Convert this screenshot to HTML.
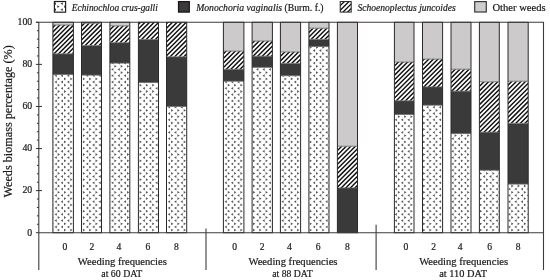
<!DOCTYPE html>
<html><head><meta charset="utf-8"><title>Weeds biomass percentage</title>
<style>
html,body{margin:0;padding:0;background:#fff;}
body{width:550px;height:280px;overflow:hidden;}
svg{display:block;}
text{font-family:"Liberation Serif","DejaVu Serif",serif;fill:#1a1a1a;stroke:#1a1a1a;stroke-width:0.2px;}
.i{font-style:italic;}
</style></head><body>
<svg width="550" height="280" viewBox="0 0 550 280">

<rect width="550" height="280" fill="#fff"/>

<clipPath id="c0d"><rect x="52.9" y="74.48" width="20.5" height="158.22"/></clipPath>
<rect x="52.9" y="74.48" width="20.5" height="158.22" fill="#fff"/>
<path clip-path="url(#c0d)" d="M51.4 77.5l2.3 1.4l-2.3 1.4zM51.4 83.8l2.3 1.4l-2.3 1.4zM51.4 90.1l2.3 1.4l-2.3 1.4zM51.4 96.4l2.3 1.4l-2.3 1.4zM51.4 102.7l2.3 1.4l-2.3 1.4zM51.4 109.0l2.3 1.4l-2.3 1.4zM51.4 115.3l2.3 1.4l-2.3 1.4zM51.4 121.6l2.3 1.4l-2.3 1.4zM51.4 127.9l2.3 1.4l-2.3 1.4zM51.4 134.2l2.3 1.4l-2.3 1.4zM51.4 140.5l2.3 1.4l-2.3 1.4zM51.4 146.8l2.3 1.4l-2.3 1.4zM51.4 153.1l2.3 1.4l-2.3 1.4zM51.4 159.4l2.3 1.4l-2.3 1.4zM51.4 165.7l2.3 1.4l-2.3 1.4zM51.4 172.0l2.3 1.4l-2.3 1.4zM51.4 178.3l2.3 1.4l-2.3 1.4zM51.4 184.6l2.3 1.4l-2.3 1.4zM51.4 190.9l2.3 1.4l-2.3 1.4zM51.4 197.2l2.3 1.4l-2.3 1.4zM51.4 203.5l2.3 1.4l-2.3 1.4zM51.4 209.8l2.3 1.4l-2.3 1.4zM51.4 216.1l2.3 1.4l-2.3 1.4zM51.4 222.4l2.3 1.4l-2.3 1.4zM51.4 228.7l2.3 1.4l-2.3 1.4zM57.7 77.5l2.3 1.4l-2.3 1.4zM57.7 83.8l2.3 1.4l-2.3 1.4zM57.7 90.1l2.3 1.4l-2.3 1.4zM57.7 96.4l2.3 1.4l-2.3 1.4zM57.7 102.7l2.3 1.4l-2.3 1.4zM57.7 109.0l2.3 1.4l-2.3 1.4zM57.7 115.3l2.3 1.4l-2.3 1.4zM57.7 121.6l2.3 1.4l-2.3 1.4zM57.7 127.9l2.3 1.4l-2.3 1.4zM57.7 134.2l2.3 1.4l-2.3 1.4zM57.7 140.5l2.3 1.4l-2.3 1.4zM57.7 146.8l2.3 1.4l-2.3 1.4zM57.7 153.1l2.3 1.4l-2.3 1.4zM57.7 159.4l2.3 1.4l-2.3 1.4zM57.7 165.7l2.3 1.4l-2.3 1.4zM57.7 172.0l2.3 1.4l-2.3 1.4zM57.7 178.3l2.3 1.4l-2.3 1.4zM57.7 184.6l2.3 1.4l-2.3 1.4zM57.7 190.9l2.3 1.4l-2.3 1.4zM57.7 197.2l2.3 1.4l-2.3 1.4zM57.7 203.5l2.3 1.4l-2.3 1.4zM57.7 209.8l2.3 1.4l-2.3 1.4zM57.7 216.1l2.3 1.4l-2.3 1.4zM57.7 222.4l2.3 1.4l-2.3 1.4zM57.7 228.7l2.3 1.4l-2.3 1.4zM64.0 77.5l2.3 1.4l-2.3 1.4zM64.0 83.8l2.3 1.4l-2.3 1.4zM64.0 90.1l2.3 1.4l-2.3 1.4zM64.0 96.4l2.3 1.4l-2.3 1.4zM64.0 102.7l2.3 1.4l-2.3 1.4zM64.0 109.0l2.3 1.4l-2.3 1.4zM64.0 115.3l2.3 1.4l-2.3 1.4zM64.0 121.6l2.3 1.4l-2.3 1.4zM64.0 127.9l2.3 1.4l-2.3 1.4zM64.0 134.2l2.3 1.4l-2.3 1.4zM64.0 140.5l2.3 1.4l-2.3 1.4zM64.0 146.8l2.3 1.4l-2.3 1.4zM64.0 153.1l2.3 1.4l-2.3 1.4zM64.0 159.4l2.3 1.4l-2.3 1.4zM64.0 165.7l2.3 1.4l-2.3 1.4zM64.0 172.0l2.3 1.4l-2.3 1.4zM64.0 178.3l2.3 1.4l-2.3 1.4zM64.0 184.6l2.3 1.4l-2.3 1.4zM64.0 190.9l2.3 1.4l-2.3 1.4zM64.0 197.2l2.3 1.4l-2.3 1.4zM64.0 203.5l2.3 1.4l-2.3 1.4zM64.0 209.8l2.3 1.4l-2.3 1.4zM64.0 216.1l2.3 1.4l-2.3 1.4zM64.0 222.4l2.3 1.4l-2.3 1.4zM64.0 228.7l2.3 1.4l-2.3 1.4zM70.3 77.5l2.3 1.4l-2.3 1.4zM70.3 83.8l2.3 1.4l-2.3 1.4zM70.3 90.1l2.3 1.4l-2.3 1.4zM70.3 96.4l2.3 1.4l-2.3 1.4zM70.3 102.7l2.3 1.4l-2.3 1.4zM70.3 109.0l2.3 1.4l-2.3 1.4zM70.3 115.3l2.3 1.4l-2.3 1.4zM70.3 121.6l2.3 1.4l-2.3 1.4zM70.3 127.9l2.3 1.4l-2.3 1.4zM70.3 134.2l2.3 1.4l-2.3 1.4zM70.3 140.5l2.3 1.4l-2.3 1.4zM70.3 146.8l2.3 1.4l-2.3 1.4zM70.3 153.1l2.3 1.4l-2.3 1.4zM70.3 159.4l2.3 1.4l-2.3 1.4zM70.3 165.7l2.3 1.4l-2.3 1.4zM70.3 172.0l2.3 1.4l-2.3 1.4zM70.3 178.3l2.3 1.4l-2.3 1.4zM70.3 184.6l2.3 1.4l-2.3 1.4zM70.3 190.9l2.3 1.4l-2.3 1.4zM70.3 197.2l2.3 1.4l-2.3 1.4zM70.3 203.5l2.3 1.4l-2.3 1.4zM70.3 209.8l2.3 1.4l-2.3 1.4zM70.3 216.1l2.3 1.4l-2.3 1.4zM70.3 222.4l2.3 1.4l-2.3 1.4zM70.3 228.7l2.3 1.4l-2.3 1.4zM56.8 74.3l-2.3 1.4l2.3 1.4zM56.8 80.6l-2.3 1.4l2.3 1.4zM56.8 86.9l-2.3 1.4l2.3 1.4zM56.8 93.2l-2.3 1.4l2.3 1.4zM56.8 99.5l-2.3 1.4l2.3 1.4zM56.8 105.8l-2.3 1.4l2.3 1.4zM56.8 112.1l-2.3 1.4l2.3 1.4zM56.8 118.4l-2.3 1.4l2.3 1.4zM56.8 124.7l-2.3 1.4l2.3 1.4zM56.8 131.0l-2.3 1.4l2.3 1.4zM56.8 137.3l-2.3 1.4l2.3 1.4zM56.8 143.6l-2.3 1.4l2.3 1.4zM56.8 149.9l-2.3 1.4l2.3 1.4zM56.8 156.2l-2.3 1.4l2.3 1.4zM56.8 162.5l-2.3 1.4l2.3 1.4zM56.8 168.8l-2.3 1.4l2.3 1.4zM56.8 175.1l-2.3 1.4l2.3 1.4zM56.8 181.4l-2.3 1.4l2.3 1.4zM56.8 187.7l-2.3 1.4l2.3 1.4zM56.8 194.0l-2.3 1.4l2.3 1.4zM56.8 200.3l-2.3 1.4l2.3 1.4zM56.8 206.6l-2.3 1.4l2.3 1.4zM56.8 212.9l-2.3 1.4l2.3 1.4zM56.8 219.2l-2.3 1.4l2.3 1.4zM56.8 225.5l-2.3 1.4l2.3 1.4zM56.8 231.8l-2.3 1.4l2.3 1.4zM63.0 74.3l-2.3 1.4l2.3 1.4zM63.0 80.6l-2.3 1.4l2.3 1.4zM63.0 86.9l-2.3 1.4l2.3 1.4zM63.0 93.2l-2.3 1.4l2.3 1.4zM63.0 99.5l-2.3 1.4l2.3 1.4zM63.0 105.8l-2.3 1.4l2.3 1.4zM63.0 112.1l-2.3 1.4l2.3 1.4zM63.0 118.4l-2.3 1.4l2.3 1.4zM63.0 124.7l-2.3 1.4l2.3 1.4zM63.0 131.0l-2.3 1.4l2.3 1.4zM63.0 137.3l-2.3 1.4l2.3 1.4zM63.0 143.6l-2.3 1.4l2.3 1.4zM63.0 149.9l-2.3 1.4l2.3 1.4zM63.0 156.2l-2.3 1.4l2.3 1.4zM63.0 162.5l-2.3 1.4l2.3 1.4zM63.0 168.8l-2.3 1.4l2.3 1.4zM63.0 175.1l-2.3 1.4l2.3 1.4zM63.0 181.4l-2.3 1.4l2.3 1.4zM63.0 187.7l-2.3 1.4l2.3 1.4zM63.0 194.0l-2.3 1.4l2.3 1.4zM63.0 200.3l-2.3 1.4l2.3 1.4zM63.0 206.6l-2.3 1.4l2.3 1.4zM63.0 212.9l-2.3 1.4l2.3 1.4zM63.0 219.2l-2.3 1.4l2.3 1.4zM63.0 225.5l-2.3 1.4l2.3 1.4zM63.0 231.8l-2.3 1.4l2.3 1.4zM69.3 74.3l-2.3 1.4l2.3 1.4zM69.3 80.6l-2.3 1.4l2.3 1.4zM69.3 86.9l-2.3 1.4l2.3 1.4zM69.3 93.2l-2.3 1.4l2.3 1.4zM69.3 99.5l-2.3 1.4l2.3 1.4zM69.3 105.8l-2.3 1.4l2.3 1.4zM69.3 112.1l-2.3 1.4l2.3 1.4zM69.3 118.4l-2.3 1.4l2.3 1.4zM69.3 124.7l-2.3 1.4l2.3 1.4zM69.3 131.0l-2.3 1.4l2.3 1.4zM69.3 137.3l-2.3 1.4l2.3 1.4zM69.3 143.6l-2.3 1.4l2.3 1.4zM69.3 149.9l-2.3 1.4l2.3 1.4zM69.3 156.2l-2.3 1.4l2.3 1.4zM69.3 162.5l-2.3 1.4l2.3 1.4zM69.3 168.8l-2.3 1.4l2.3 1.4zM69.3 175.1l-2.3 1.4l2.3 1.4zM69.3 181.4l-2.3 1.4l2.3 1.4zM69.3 187.7l-2.3 1.4l2.3 1.4zM69.3 194.0l-2.3 1.4l2.3 1.4zM69.3 200.3l-2.3 1.4l2.3 1.4zM69.3 206.6l-2.3 1.4l2.3 1.4zM69.3 212.9l-2.3 1.4l2.3 1.4zM69.3 219.2l-2.3 1.4l2.3 1.4zM69.3 225.5l-2.3 1.4l2.3 1.4zM69.3 231.8l-2.3 1.4l2.3 1.4zM75.6 74.3l-2.3 1.4l2.3 1.4zM75.6 80.6l-2.3 1.4l2.3 1.4zM75.6 86.9l-2.3 1.4l2.3 1.4zM75.6 93.2l-2.3 1.4l2.3 1.4zM75.6 99.5l-2.3 1.4l2.3 1.4zM75.6 105.8l-2.3 1.4l2.3 1.4zM75.6 112.1l-2.3 1.4l2.3 1.4zM75.6 118.4l-2.3 1.4l2.3 1.4zM75.6 124.7l-2.3 1.4l2.3 1.4zM75.6 131.0l-2.3 1.4l2.3 1.4zM75.6 137.3l-2.3 1.4l2.3 1.4zM75.6 143.6l-2.3 1.4l2.3 1.4zM75.6 149.9l-2.3 1.4l2.3 1.4zM75.6 156.2l-2.3 1.4l2.3 1.4zM75.6 162.5l-2.3 1.4l2.3 1.4zM75.6 168.8l-2.3 1.4l2.3 1.4zM75.6 175.1l-2.3 1.4l2.3 1.4zM75.6 181.4l-2.3 1.4l2.3 1.4zM75.6 187.7l-2.3 1.4l2.3 1.4zM75.6 194.0l-2.3 1.4l2.3 1.4zM75.6 200.3l-2.3 1.4l2.3 1.4zM75.6 206.6l-2.3 1.4l2.3 1.4zM75.6 212.9l-2.3 1.4l2.3 1.4zM75.6 219.2l-2.3 1.4l2.3 1.4zM75.6 225.5l-2.3 1.4l2.3 1.4zM75.6 231.8l-2.3 1.4l2.3 1.4z" fill="#5a5a5a"/>
<rect x="52.9" y="53.86" width="20.5" height="20.62" fill="#3b3a3a"/>
<clipPath id="c0h"><rect x="52.9" y="25.04" width="20.5" height="28.82"/></clipPath>
<rect x="52.9" y="25.04" width="20.5" height="28.82" fill="#fff"/>
<path clip-path="url(#c0h)" d="M50.90 20.24L75.40 -4.26M50.90 24.82L75.40 0.32M50.90 29.40L75.40 4.90M50.90 33.98L75.40 9.48M50.90 38.56L75.40 14.06M50.90 43.14L75.40 18.64M50.90 47.72L75.40 23.22M50.90 52.30L75.40 27.80M50.90 56.88L75.40 32.38M50.90 61.46L75.40 36.96M50.90 66.04L75.40 41.54M50.90 70.62L75.40 46.12M50.90 75.20L75.40 50.70M50.90 79.78L75.40 55.28M50.90 84.36L75.40 59.86" stroke="#111" stroke-width="1.45" fill="none"/>
<rect x="52.9" y="22.30" width="20.5" height="2.74" fill="#cccaca"/>
<path d="M52.9 74.48h20.5M52.9 53.86h20.5M52.9 25.04h20.5" stroke="#6a6a6a" stroke-width="0.8" fill="none"/>
<rect x="52.9" y="22.30" width="20.5" height="210.40" fill="none" stroke="#2a2a2a" stroke-width="1"/>
<clipPath id="c1d"><rect x="81.5" y="75.11" width="20.0" height="157.59"/></clipPath>
<rect x="81.5" y="75.11" width="20.0" height="157.59" fill="#fff"/>
<path clip-path="url(#c1d)" d="M82.9 77.5l2.3 1.4l-2.3 1.4zM82.9 83.8l2.3 1.4l-2.3 1.4zM82.9 90.1l2.3 1.4l-2.3 1.4zM82.9 96.4l2.3 1.4l-2.3 1.4zM82.9 102.7l2.3 1.4l-2.3 1.4zM82.9 109.0l2.3 1.4l-2.3 1.4zM82.9 115.3l2.3 1.4l-2.3 1.4zM82.9 121.6l2.3 1.4l-2.3 1.4zM82.9 127.9l2.3 1.4l-2.3 1.4zM82.9 134.2l2.3 1.4l-2.3 1.4zM82.9 140.5l2.3 1.4l-2.3 1.4zM82.9 146.8l2.3 1.4l-2.3 1.4zM82.9 153.1l2.3 1.4l-2.3 1.4zM82.9 159.4l2.3 1.4l-2.3 1.4zM82.9 165.7l2.3 1.4l-2.3 1.4zM82.9 172.0l2.3 1.4l-2.3 1.4zM82.9 178.3l2.3 1.4l-2.3 1.4zM82.9 184.6l2.3 1.4l-2.3 1.4zM82.9 190.9l2.3 1.4l-2.3 1.4zM82.9 197.2l2.3 1.4l-2.3 1.4zM82.9 203.5l2.3 1.4l-2.3 1.4zM82.9 209.8l2.3 1.4l-2.3 1.4zM82.9 216.1l2.3 1.4l-2.3 1.4zM82.9 222.4l2.3 1.4l-2.3 1.4zM82.9 228.7l2.3 1.4l-2.3 1.4zM89.2 77.5l2.3 1.4l-2.3 1.4zM89.2 83.8l2.3 1.4l-2.3 1.4zM89.2 90.1l2.3 1.4l-2.3 1.4zM89.2 96.4l2.3 1.4l-2.3 1.4zM89.2 102.7l2.3 1.4l-2.3 1.4zM89.2 109.0l2.3 1.4l-2.3 1.4zM89.2 115.3l2.3 1.4l-2.3 1.4zM89.2 121.6l2.3 1.4l-2.3 1.4zM89.2 127.9l2.3 1.4l-2.3 1.4zM89.2 134.2l2.3 1.4l-2.3 1.4zM89.2 140.5l2.3 1.4l-2.3 1.4zM89.2 146.8l2.3 1.4l-2.3 1.4zM89.2 153.1l2.3 1.4l-2.3 1.4zM89.2 159.4l2.3 1.4l-2.3 1.4zM89.2 165.7l2.3 1.4l-2.3 1.4zM89.2 172.0l2.3 1.4l-2.3 1.4zM89.2 178.3l2.3 1.4l-2.3 1.4zM89.2 184.6l2.3 1.4l-2.3 1.4zM89.2 190.9l2.3 1.4l-2.3 1.4zM89.2 197.2l2.3 1.4l-2.3 1.4zM89.2 203.5l2.3 1.4l-2.3 1.4zM89.2 209.8l2.3 1.4l-2.3 1.4zM89.2 216.1l2.3 1.4l-2.3 1.4zM89.2 222.4l2.3 1.4l-2.3 1.4zM89.2 228.7l2.3 1.4l-2.3 1.4zM95.5 77.5l2.3 1.4l-2.3 1.4zM95.5 83.8l2.3 1.4l-2.3 1.4zM95.5 90.1l2.3 1.4l-2.3 1.4zM95.5 96.4l2.3 1.4l-2.3 1.4zM95.5 102.7l2.3 1.4l-2.3 1.4zM95.5 109.0l2.3 1.4l-2.3 1.4zM95.5 115.3l2.3 1.4l-2.3 1.4zM95.5 121.6l2.3 1.4l-2.3 1.4zM95.5 127.9l2.3 1.4l-2.3 1.4zM95.5 134.2l2.3 1.4l-2.3 1.4zM95.5 140.5l2.3 1.4l-2.3 1.4zM95.5 146.8l2.3 1.4l-2.3 1.4zM95.5 153.1l2.3 1.4l-2.3 1.4zM95.5 159.4l2.3 1.4l-2.3 1.4zM95.5 165.7l2.3 1.4l-2.3 1.4zM95.5 172.0l2.3 1.4l-2.3 1.4zM95.5 178.3l2.3 1.4l-2.3 1.4zM95.5 184.6l2.3 1.4l-2.3 1.4zM95.5 190.9l2.3 1.4l-2.3 1.4zM95.5 197.2l2.3 1.4l-2.3 1.4zM95.5 203.5l2.3 1.4l-2.3 1.4zM95.5 209.8l2.3 1.4l-2.3 1.4zM95.5 216.1l2.3 1.4l-2.3 1.4zM95.5 222.4l2.3 1.4l-2.3 1.4zM95.5 228.7l2.3 1.4l-2.3 1.4zM101.8 77.5l2.3 1.4l-2.3 1.4zM101.8 83.8l2.3 1.4l-2.3 1.4zM101.8 90.1l2.3 1.4l-2.3 1.4zM101.8 96.4l2.3 1.4l-2.3 1.4zM101.8 102.7l2.3 1.4l-2.3 1.4zM101.8 109.0l2.3 1.4l-2.3 1.4zM101.8 115.3l2.3 1.4l-2.3 1.4zM101.8 121.6l2.3 1.4l-2.3 1.4zM101.8 127.9l2.3 1.4l-2.3 1.4zM101.8 134.2l2.3 1.4l-2.3 1.4zM101.8 140.5l2.3 1.4l-2.3 1.4zM101.8 146.8l2.3 1.4l-2.3 1.4zM101.8 153.1l2.3 1.4l-2.3 1.4zM101.8 159.4l2.3 1.4l-2.3 1.4zM101.8 165.7l2.3 1.4l-2.3 1.4zM101.8 172.0l2.3 1.4l-2.3 1.4zM101.8 178.3l2.3 1.4l-2.3 1.4zM101.8 184.6l2.3 1.4l-2.3 1.4zM101.8 190.9l2.3 1.4l-2.3 1.4zM101.8 197.2l2.3 1.4l-2.3 1.4zM101.8 203.5l2.3 1.4l-2.3 1.4zM101.8 209.8l2.3 1.4l-2.3 1.4zM101.8 216.1l2.3 1.4l-2.3 1.4zM101.8 222.4l2.3 1.4l-2.3 1.4zM101.8 228.7l2.3 1.4l-2.3 1.4zM81.9 74.3l-2.3 1.4l2.3 1.4zM81.9 80.6l-2.3 1.4l2.3 1.4zM81.9 86.9l-2.3 1.4l2.3 1.4zM81.9 93.2l-2.3 1.4l2.3 1.4zM81.9 99.5l-2.3 1.4l2.3 1.4zM81.9 105.8l-2.3 1.4l2.3 1.4zM81.9 112.1l-2.3 1.4l2.3 1.4zM81.9 118.4l-2.3 1.4l2.3 1.4zM81.9 124.7l-2.3 1.4l2.3 1.4zM81.9 131.0l-2.3 1.4l2.3 1.4zM81.9 137.3l-2.3 1.4l2.3 1.4zM81.9 143.6l-2.3 1.4l2.3 1.4zM81.9 149.9l-2.3 1.4l2.3 1.4zM81.9 156.2l-2.3 1.4l2.3 1.4zM81.9 162.5l-2.3 1.4l2.3 1.4zM81.9 168.8l-2.3 1.4l2.3 1.4zM81.9 175.1l-2.3 1.4l2.3 1.4zM81.9 181.4l-2.3 1.4l2.3 1.4zM81.9 187.7l-2.3 1.4l2.3 1.4zM81.9 194.0l-2.3 1.4l2.3 1.4zM81.9 200.3l-2.3 1.4l2.3 1.4zM81.9 206.6l-2.3 1.4l2.3 1.4zM81.9 212.9l-2.3 1.4l2.3 1.4zM81.9 219.2l-2.3 1.4l2.3 1.4zM81.9 225.5l-2.3 1.4l2.3 1.4zM81.9 231.8l-2.3 1.4l2.3 1.4zM88.2 74.3l-2.3 1.4l2.3 1.4zM88.2 80.6l-2.3 1.4l2.3 1.4zM88.2 86.9l-2.3 1.4l2.3 1.4zM88.2 93.2l-2.3 1.4l2.3 1.4zM88.2 99.5l-2.3 1.4l2.3 1.4zM88.2 105.8l-2.3 1.4l2.3 1.4zM88.2 112.1l-2.3 1.4l2.3 1.4zM88.2 118.4l-2.3 1.4l2.3 1.4zM88.2 124.7l-2.3 1.4l2.3 1.4zM88.2 131.0l-2.3 1.4l2.3 1.4zM88.2 137.3l-2.3 1.4l2.3 1.4zM88.2 143.6l-2.3 1.4l2.3 1.4zM88.2 149.9l-2.3 1.4l2.3 1.4zM88.2 156.2l-2.3 1.4l2.3 1.4zM88.2 162.5l-2.3 1.4l2.3 1.4zM88.2 168.8l-2.3 1.4l2.3 1.4zM88.2 175.1l-2.3 1.4l2.3 1.4zM88.2 181.4l-2.3 1.4l2.3 1.4zM88.2 187.7l-2.3 1.4l2.3 1.4zM88.2 194.0l-2.3 1.4l2.3 1.4zM88.2 200.3l-2.3 1.4l2.3 1.4zM88.2 206.6l-2.3 1.4l2.3 1.4zM88.2 212.9l-2.3 1.4l2.3 1.4zM88.2 219.2l-2.3 1.4l2.3 1.4zM88.2 225.5l-2.3 1.4l2.3 1.4zM88.2 231.8l-2.3 1.4l2.3 1.4zM94.5 74.3l-2.3 1.4l2.3 1.4zM94.5 80.6l-2.3 1.4l2.3 1.4zM94.5 86.9l-2.3 1.4l2.3 1.4zM94.5 93.2l-2.3 1.4l2.3 1.4zM94.5 99.5l-2.3 1.4l2.3 1.4zM94.5 105.8l-2.3 1.4l2.3 1.4zM94.5 112.1l-2.3 1.4l2.3 1.4zM94.5 118.4l-2.3 1.4l2.3 1.4zM94.5 124.7l-2.3 1.4l2.3 1.4zM94.5 131.0l-2.3 1.4l2.3 1.4zM94.5 137.3l-2.3 1.4l2.3 1.4zM94.5 143.6l-2.3 1.4l2.3 1.4zM94.5 149.9l-2.3 1.4l2.3 1.4zM94.5 156.2l-2.3 1.4l2.3 1.4zM94.5 162.5l-2.3 1.4l2.3 1.4zM94.5 168.8l-2.3 1.4l2.3 1.4zM94.5 175.1l-2.3 1.4l2.3 1.4zM94.5 181.4l-2.3 1.4l2.3 1.4zM94.5 187.7l-2.3 1.4l2.3 1.4zM94.5 194.0l-2.3 1.4l2.3 1.4zM94.5 200.3l-2.3 1.4l2.3 1.4zM94.5 206.6l-2.3 1.4l2.3 1.4zM94.5 212.9l-2.3 1.4l2.3 1.4zM94.5 219.2l-2.3 1.4l2.3 1.4zM94.5 225.5l-2.3 1.4l2.3 1.4zM94.5 231.8l-2.3 1.4l2.3 1.4zM100.8 74.3l-2.3 1.4l2.3 1.4zM100.8 80.6l-2.3 1.4l2.3 1.4zM100.8 86.9l-2.3 1.4l2.3 1.4zM100.8 93.2l-2.3 1.4l2.3 1.4zM100.8 99.5l-2.3 1.4l2.3 1.4zM100.8 105.8l-2.3 1.4l2.3 1.4zM100.8 112.1l-2.3 1.4l2.3 1.4zM100.8 118.4l-2.3 1.4l2.3 1.4zM100.8 124.7l-2.3 1.4l2.3 1.4zM100.8 131.0l-2.3 1.4l2.3 1.4zM100.8 137.3l-2.3 1.4l2.3 1.4zM100.8 143.6l-2.3 1.4l2.3 1.4zM100.8 149.9l-2.3 1.4l2.3 1.4zM100.8 156.2l-2.3 1.4l2.3 1.4zM100.8 162.5l-2.3 1.4l2.3 1.4zM100.8 168.8l-2.3 1.4l2.3 1.4zM100.8 175.1l-2.3 1.4l2.3 1.4zM100.8 181.4l-2.3 1.4l2.3 1.4zM100.8 187.7l-2.3 1.4l2.3 1.4zM100.8 194.0l-2.3 1.4l2.3 1.4zM100.8 200.3l-2.3 1.4l2.3 1.4zM100.8 206.6l-2.3 1.4l2.3 1.4zM100.8 212.9l-2.3 1.4l2.3 1.4zM100.8 219.2l-2.3 1.4l2.3 1.4zM100.8 225.5l-2.3 1.4l2.3 1.4zM100.8 231.8l-2.3 1.4l2.3 1.4z" fill="#5a5a5a"/>
<rect x="81.5" y="45.55" width="20.0" height="29.56" fill="#3b3a3a"/>
<clipPath id="c1h"><rect x="81.5" y="23.14" width="20.0" height="22.41"/></clipPath>
<rect x="81.5" y="23.14" width="20.0" height="22.41" fill="#fff"/>
<path clip-path="url(#c1h)" d="M79.50 19.12L103.50 -4.88M79.50 23.70L103.50 -0.30M79.50 28.28L103.50 4.28M79.50 32.86L103.50 8.86M79.50 37.44L103.50 13.44M79.50 42.02L103.50 18.02M79.50 46.60L103.50 22.60M79.50 51.18L103.50 27.18M79.50 55.76L103.50 31.76M79.50 60.34L103.50 36.34M79.50 64.92L103.50 40.92M79.50 69.50L103.50 45.50M79.50 74.08L103.50 50.08" stroke="#111" stroke-width="1.45" fill="none"/>
<rect x="81.5" y="22.30" width="20.0" height="0.84" fill="#cccaca"/>
<path d="M81.5 75.11h20.0M81.5 45.55h20.0M81.5 23.14h20.0" stroke="#6a6a6a" stroke-width="0.8" fill="none"/>
<rect x="81.5" y="22.30" width="20.0" height="210.40" fill="none" stroke="#2a2a2a" stroke-width="1"/>
<clipPath id="c2d"><rect x="109.9" y="63.12" width="19.9" height="169.58"/></clipPath>
<rect x="109.9" y="63.12" width="19.9" height="169.58" fill="#fff"/>
<path clip-path="url(#c2d)" d="M108.1 64.9l2.3 1.4l-2.3 1.4zM108.1 71.2l2.3 1.4l-2.3 1.4zM108.1 77.5l2.3 1.4l-2.3 1.4zM108.1 83.8l2.3 1.4l-2.3 1.4zM108.1 90.1l2.3 1.4l-2.3 1.4zM108.1 96.4l2.3 1.4l-2.3 1.4zM108.1 102.7l2.3 1.4l-2.3 1.4zM108.1 109.0l2.3 1.4l-2.3 1.4zM108.1 115.3l2.3 1.4l-2.3 1.4zM108.1 121.6l2.3 1.4l-2.3 1.4zM108.1 127.9l2.3 1.4l-2.3 1.4zM108.1 134.2l2.3 1.4l-2.3 1.4zM108.1 140.5l2.3 1.4l-2.3 1.4zM108.1 146.8l2.3 1.4l-2.3 1.4zM108.1 153.1l2.3 1.4l-2.3 1.4zM108.1 159.4l2.3 1.4l-2.3 1.4zM108.1 165.7l2.3 1.4l-2.3 1.4zM108.1 172.0l2.3 1.4l-2.3 1.4zM108.1 178.3l2.3 1.4l-2.3 1.4zM108.1 184.6l2.3 1.4l-2.3 1.4zM108.1 190.9l2.3 1.4l-2.3 1.4zM108.1 197.2l2.3 1.4l-2.3 1.4zM108.1 203.5l2.3 1.4l-2.3 1.4zM108.1 209.8l2.3 1.4l-2.3 1.4zM108.1 216.1l2.3 1.4l-2.3 1.4zM108.1 222.4l2.3 1.4l-2.3 1.4zM108.1 228.7l2.3 1.4l-2.3 1.4zM114.4 64.9l2.3 1.4l-2.3 1.4zM114.4 71.2l2.3 1.4l-2.3 1.4zM114.4 77.5l2.3 1.4l-2.3 1.4zM114.4 83.8l2.3 1.4l-2.3 1.4zM114.4 90.1l2.3 1.4l-2.3 1.4zM114.4 96.4l2.3 1.4l-2.3 1.4zM114.4 102.7l2.3 1.4l-2.3 1.4zM114.4 109.0l2.3 1.4l-2.3 1.4zM114.4 115.3l2.3 1.4l-2.3 1.4zM114.4 121.6l2.3 1.4l-2.3 1.4zM114.4 127.9l2.3 1.4l-2.3 1.4zM114.4 134.2l2.3 1.4l-2.3 1.4zM114.4 140.5l2.3 1.4l-2.3 1.4zM114.4 146.8l2.3 1.4l-2.3 1.4zM114.4 153.1l2.3 1.4l-2.3 1.4zM114.4 159.4l2.3 1.4l-2.3 1.4zM114.4 165.7l2.3 1.4l-2.3 1.4zM114.4 172.0l2.3 1.4l-2.3 1.4zM114.4 178.3l2.3 1.4l-2.3 1.4zM114.4 184.6l2.3 1.4l-2.3 1.4zM114.4 190.9l2.3 1.4l-2.3 1.4zM114.4 197.2l2.3 1.4l-2.3 1.4zM114.4 203.5l2.3 1.4l-2.3 1.4zM114.4 209.8l2.3 1.4l-2.3 1.4zM114.4 216.1l2.3 1.4l-2.3 1.4zM114.4 222.4l2.3 1.4l-2.3 1.4zM114.4 228.7l2.3 1.4l-2.3 1.4zM120.7 64.9l2.3 1.4l-2.3 1.4zM120.7 71.2l2.3 1.4l-2.3 1.4zM120.7 77.5l2.3 1.4l-2.3 1.4zM120.7 83.8l2.3 1.4l-2.3 1.4zM120.7 90.1l2.3 1.4l-2.3 1.4zM120.7 96.4l2.3 1.4l-2.3 1.4zM120.7 102.7l2.3 1.4l-2.3 1.4zM120.7 109.0l2.3 1.4l-2.3 1.4zM120.7 115.3l2.3 1.4l-2.3 1.4zM120.7 121.6l2.3 1.4l-2.3 1.4zM120.7 127.9l2.3 1.4l-2.3 1.4zM120.7 134.2l2.3 1.4l-2.3 1.4zM120.7 140.5l2.3 1.4l-2.3 1.4zM120.7 146.8l2.3 1.4l-2.3 1.4zM120.7 153.1l2.3 1.4l-2.3 1.4zM120.7 159.4l2.3 1.4l-2.3 1.4zM120.7 165.7l2.3 1.4l-2.3 1.4zM120.7 172.0l2.3 1.4l-2.3 1.4zM120.7 178.3l2.3 1.4l-2.3 1.4zM120.7 184.6l2.3 1.4l-2.3 1.4zM120.7 190.9l2.3 1.4l-2.3 1.4zM120.7 197.2l2.3 1.4l-2.3 1.4zM120.7 203.5l2.3 1.4l-2.3 1.4zM120.7 209.8l2.3 1.4l-2.3 1.4zM120.7 216.1l2.3 1.4l-2.3 1.4zM120.7 222.4l2.3 1.4l-2.3 1.4zM120.7 228.7l2.3 1.4l-2.3 1.4zM127.0 64.9l2.3 1.4l-2.3 1.4zM127.0 71.2l2.3 1.4l-2.3 1.4zM127.0 77.5l2.3 1.4l-2.3 1.4zM127.0 83.8l2.3 1.4l-2.3 1.4zM127.0 90.1l2.3 1.4l-2.3 1.4zM127.0 96.4l2.3 1.4l-2.3 1.4zM127.0 102.7l2.3 1.4l-2.3 1.4zM127.0 109.0l2.3 1.4l-2.3 1.4zM127.0 115.3l2.3 1.4l-2.3 1.4zM127.0 121.6l2.3 1.4l-2.3 1.4zM127.0 127.9l2.3 1.4l-2.3 1.4zM127.0 134.2l2.3 1.4l-2.3 1.4zM127.0 140.5l2.3 1.4l-2.3 1.4zM127.0 146.8l2.3 1.4l-2.3 1.4zM127.0 153.1l2.3 1.4l-2.3 1.4zM127.0 159.4l2.3 1.4l-2.3 1.4zM127.0 165.7l2.3 1.4l-2.3 1.4zM127.0 172.0l2.3 1.4l-2.3 1.4zM127.0 178.3l2.3 1.4l-2.3 1.4zM127.0 184.6l2.3 1.4l-2.3 1.4zM127.0 190.9l2.3 1.4l-2.3 1.4zM127.0 197.2l2.3 1.4l-2.3 1.4zM127.0 203.5l2.3 1.4l-2.3 1.4zM127.0 209.8l2.3 1.4l-2.3 1.4zM127.0 216.1l2.3 1.4l-2.3 1.4zM127.0 222.4l2.3 1.4l-2.3 1.4zM127.0 228.7l2.3 1.4l-2.3 1.4zM113.4 61.7l-2.3 1.4l2.3 1.4zM113.4 68.0l-2.3 1.4l2.3 1.4zM113.4 74.3l-2.3 1.4l2.3 1.4zM113.4 80.6l-2.3 1.4l2.3 1.4zM113.4 86.9l-2.3 1.4l2.3 1.4zM113.4 93.2l-2.3 1.4l2.3 1.4zM113.4 99.5l-2.3 1.4l2.3 1.4zM113.4 105.8l-2.3 1.4l2.3 1.4zM113.4 112.1l-2.3 1.4l2.3 1.4zM113.4 118.4l-2.3 1.4l2.3 1.4zM113.4 124.7l-2.3 1.4l2.3 1.4zM113.4 131.0l-2.3 1.4l2.3 1.4zM113.4 137.3l-2.3 1.4l2.3 1.4zM113.4 143.6l-2.3 1.4l2.3 1.4zM113.4 149.9l-2.3 1.4l2.3 1.4zM113.4 156.2l-2.3 1.4l2.3 1.4zM113.4 162.5l-2.3 1.4l2.3 1.4zM113.4 168.8l-2.3 1.4l2.3 1.4zM113.4 175.1l-2.3 1.4l2.3 1.4zM113.4 181.4l-2.3 1.4l2.3 1.4zM113.4 187.7l-2.3 1.4l2.3 1.4zM113.4 194.0l-2.3 1.4l2.3 1.4zM113.4 200.3l-2.3 1.4l2.3 1.4zM113.4 206.6l-2.3 1.4l2.3 1.4zM113.4 212.9l-2.3 1.4l2.3 1.4zM113.4 219.2l-2.3 1.4l2.3 1.4zM113.4 225.5l-2.3 1.4l2.3 1.4zM113.4 231.8l-2.3 1.4l2.3 1.4zM119.8 61.7l-2.3 1.4l2.3 1.4zM119.8 68.0l-2.3 1.4l2.3 1.4zM119.8 74.3l-2.3 1.4l2.3 1.4zM119.8 80.6l-2.3 1.4l2.3 1.4zM119.8 86.9l-2.3 1.4l2.3 1.4zM119.8 93.2l-2.3 1.4l2.3 1.4zM119.8 99.5l-2.3 1.4l2.3 1.4zM119.8 105.8l-2.3 1.4l2.3 1.4zM119.8 112.1l-2.3 1.4l2.3 1.4zM119.8 118.4l-2.3 1.4l2.3 1.4zM119.8 124.7l-2.3 1.4l2.3 1.4zM119.8 131.0l-2.3 1.4l2.3 1.4zM119.8 137.3l-2.3 1.4l2.3 1.4zM119.8 143.6l-2.3 1.4l2.3 1.4zM119.8 149.9l-2.3 1.4l2.3 1.4zM119.8 156.2l-2.3 1.4l2.3 1.4zM119.8 162.5l-2.3 1.4l2.3 1.4zM119.8 168.8l-2.3 1.4l2.3 1.4zM119.8 175.1l-2.3 1.4l2.3 1.4zM119.8 181.4l-2.3 1.4l2.3 1.4zM119.8 187.7l-2.3 1.4l2.3 1.4zM119.8 194.0l-2.3 1.4l2.3 1.4zM119.8 200.3l-2.3 1.4l2.3 1.4zM119.8 206.6l-2.3 1.4l2.3 1.4zM119.8 212.9l-2.3 1.4l2.3 1.4zM119.8 219.2l-2.3 1.4l2.3 1.4zM119.8 225.5l-2.3 1.4l2.3 1.4zM119.8 231.8l-2.3 1.4l2.3 1.4zM126.0 61.7l-2.3 1.4l2.3 1.4zM126.0 68.0l-2.3 1.4l2.3 1.4zM126.0 74.3l-2.3 1.4l2.3 1.4zM126.0 80.6l-2.3 1.4l2.3 1.4zM126.0 86.9l-2.3 1.4l2.3 1.4zM126.0 93.2l-2.3 1.4l2.3 1.4zM126.0 99.5l-2.3 1.4l2.3 1.4zM126.0 105.8l-2.3 1.4l2.3 1.4zM126.0 112.1l-2.3 1.4l2.3 1.4zM126.0 118.4l-2.3 1.4l2.3 1.4zM126.0 124.7l-2.3 1.4l2.3 1.4zM126.0 131.0l-2.3 1.4l2.3 1.4zM126.0 137.3l-2.3 1.4l2.3 1.4zM126.0 143.6l-2.3 1.4l2.3 1.4zM126.0 149.9l-2.3 1.4l2.3 1.4zM126.0 156.2l-2.3 1.4l2.3 1.4zM126.0 162.5l-2.3 1.4l2.3 1.4zM126.0 168.8l-2.3 1.4l2.3 1.4zM126.0 175.1l-2.3 1.4l2.3 1.4zM126.0 181.4l-2.3 1.4l2.3 1.4zM126.0 187.7l-2.3 1.4l2.3 1.4zM126.0 194.0l-2.3 1.4l2.3 1.4zM126.0 200.3l-2.3 1.4l2.3 1.4zM126.0 206.6l-2.3 1.4l2.3 1.4zM126.0 212.9l-2.3 1.4l2.3 1.4zM126.0 219.2l-2.3 1.4l2.3 1.4zM126.0 225.5l-2.3 1.4l2.3 1.4zM126.0 231.8l-2.3 1.4l2.3 1.4zM132.3 61.7l-2.3 1.4l2.3 1.4zM132.3 68.0l-2.3 1.4l2.3 1.4zM132.3 74.3l-2.3 1.4l2.3 1.4zM132.3 80.6l-2.3 1.4l2.3 1.4zM132.3 86.9l-2.3 1.4l2.3 1.4zM132.3 93.2l-2.3 1.4l2.3 1.4zM132.3 99.5l-2.3 1.4l2.3 1.4zM132.3 105.8l-2.3 1.4l2.3 1.4zM132.3 112.1l-2.3 1.4l2.3 1.4zM132.3 118.4l-2.3 1.4l2.3 1.4zM132.3 124.7l-2.3 1.4l2.3 1.4zM132.3 131.0l-2.3 1.4l2.3 1.4zM132.3 137.3l-2.3 1.4l2.3 1.4zM132.3 143.6l-2.3 1.4l2.3 1.4zM132.3 149.9l-2.3 1.4l2.3 1.4zM132.3 156.2l-2.3 1.4l2.3 1.4zM132.3 162.5l-2.3 1.4l2.3 1.4zM132.3 168.8l-2.3 1.4l2.3 1.4zM132.3 175.1l-2.3 1.4l2.3 1.4zM132.3 181.4l-2.3 1.4l2.3 1.4zM132.3 187.7l-2.3 1.4l2.3 1.4zM132.3 194.0l-2.3 1.4l2.3 1.4zM132.3 200.3l-2.3 1.4l2.3 1.4zM132.3 206.6l-2.3 1.4l2.3 1.4zM132.3 212.9l-2.3 1.4l2.3 1.4zM132.3 219.2l-2.3 1.4l2.3 1.4zM132.3 225.5l-2.3 1.4l2.3 1.4zM132.3 231.8l-2.3 1.4l2.3 1.4z" fill="#5a5a5a"/>
<rect x="109.9" y="42.71" width="19.9" height="20.41" fill="#3b3a3a"/>
<clipPath id="c2h"><rect x="109.9" y="25.88" width="19.9" height="16.83"/></clipPath>
<rect x="109.9" y="25.88" width="19.9" height="16.83" fill="#fff"/>
<path clip-path="url(#c2h)" d="M107.90 22.78L131.80 -1.12M107.90 27.36L131.80 3.46M107.90 31.94L131.80 8.04M107.90 36.52L131.80 12.62M107.90 41.10L131.80 17.20M107.90 45.68L131.80 21.78M107.90 50.26L131.80 26.36M107.90 54.84L131.80 30.94M107.90 59.42L131.80 35.52M107.90 64.00L131.80 40.10M107.90 68.58L131.80 44.68M107.90 73.16L131.80 49.26" stroke="#111" stroke-width="1.45" fill="none"/>
<rect x="109.9" y="22.30" width="19.9" height="3.58" fill="#cccaca"/>
<path d="M109.9 63.12h19.9M109.9 42.71h19.9M109.9 25.88h19.9" stroke="#6a6a6a" stroke-width="0.8" fill="none"/>
<rect x="109.9" y="22.30" width="19.9" height="210.40" fill="none" stroke="#2a2a2a" stroke-width="1"/>
<clipPath id="c3d"><rect x="138.4" y="82.47" width="20.1" height="150.23"/></clipPath>
<rect x="138.4" y="82.47" width="20.1" height="150.23" fill="#fff"/>
<path clip-path="url(#c3d)" d="M139.6 83.8l2.3 1.4l-2.3 1.4zM139.6 90.1l2.3 1.4l-2.3 1.4zM139.6 96.4l2.3 1.4l-2.3 1.4zM139.6 102.7l2.3 1.4l-2.3 1.4zM139.6 109.0l2.3 1.4l-2.3 1.4zM139.6 115.3l2.3 1.4l-2.3 1.4zM139.6 121.6l2.3 1.4l-2.3 1.4zM139.6 127.9l2.3 1.4l-2.3 1.4zM139.6 134.2l2.3 1.4l-2.3 1.4zM139.6 140.5l2.3 1.4l-2.3 1.4zM139.6 146.8l2.3 1.4l-2.3 1.4zM139.6 153.1l2.3 1.4l-2.3 1.4zM139.6 159.4l2.3 1.4l-2.3 1.4zM139.6 165.7l2.3 1.4l-2.3 1.4zM139.6 172.0l2.3 1.4l-2.3 1.4zM139.6 178.3l2.3 1.4l-2.3 1.4zM139.6 184.6l2.3 1.4l-2.3 1.4zM139.6 190.9l2.3 1.4l-2.3 1.4zM139.6 197.2l2.3 1.4l-2.3 1.4zM139.6 203.5l2.3 1.4l-2.3 1.4zM139.6 209.8l2.3 1.4l-2.3 1.4zM139.6 216.1l2.3 1.4l-2.3 1.4zM139.6 222.4l2.3 1.4l-2.3 1.4zM139.6 228.7l2.3 1.4l-2.3 1.4zM145.9 83.8l2.3 1.4l-2.3 1.4zM145.9 90.1l2.3 1.4l-2.3 1.4zM145.9 96.4l2.3 1.4l-2.3 1.4zM145.9 102.7l2.3 1.4l-2.3 1.4zM145.9 109.0l2.3 1.4l-2.3 1.4zM145.9 115.3l2.3 1.4l-2.3 1.4zM145.9 121.6l2.3 1.4l-2.3 1.4zM145.9 127.9l2.3 1.4l-2.3 1.4zM145.9 134.2l2.3 1.4l-2.3 1.4zM145.9 140.5l2.3 1.4l-2.3 1.4zM145.9 146.8l2.3 1.4l-2.3 1.4zM145.9 153.1l2.3 1.4l-2.3 1.4zM145.9 159.4l2.3 1.4l-2.3 1.4zM145.9 165.7l2.3 1.4l-2.3 1.4zM145.9 172.0l2.3 1.4l-2.3 1.4zM145.9 178.3l2.3 1.4l-2.3 1.4zM145.9 184.6l2.3 1.4l-2.3 1.4zM145.9 190.9l2.3 1.4l-2.3 1.4zM145.9 197.2l2.3 1.4l-2.3 1.4zM145.9 203.5l2.3 1.4l-2.3 1.4zM145.9 209.8l2.3 1.4l-2.3 1.4zM145.9 216.1l2.3 1.4l-2.3 1.4zM145.9 222.4l2.3 1.4l-2.3 1.4zM145.9 228.7l2.3 1.4l-2.3 1.4zM152.2 83.8l2.3 1.4l-2.3 1.4zM152.2 90.1l2.3 1.4l-2.3 1.4zM152.2 96.4l2.3 1.4l-2.3 1.4zM152.2 102.7l2.3 1.4l-2.3 1.4zM152.2 109.0l2.3 1.4l-2.3 1.4zM152.2 115.3l2.3 1.4l-2.3 1.4zM152.2 121.6l2.3 1.4l-2.3 1.4zM152.2 127.9l2.3 1.4l-2.3 1.4zM152.2 134.2l2.3 1.4l-2.3 1.4zM152.2 140.5l2.3 1.4l-2.3 1.4zM152.2 146.8l2.3 1.4l-2.3 1.4zM152.2 153.1l2.3 1.4l-2.3 1.4zM152.2 159.4l2.3 1.4l-2.3 1.4zM152.2 165.7l2.3 1.4l-2.3 1.4zM152.2 172.0l2.3 1.4l-2.3 1.4zM152.2 178.3l2.3 1.4l-2.3 1.4zM152.2 184.6l2.3 1.4l-2.3 1.4zM152.2 190.9l2.3 1.4l-2.3 1.4zM152.2 197.2l2.3 1.4l-2.3 1.4zM152.2 203.5l2.3 1.4l-2.3 1.4zM152.2 209.8l2.3 1.4l-2.3 1.4zM152.2 216.1l2.3 1.4l-2.3 1.4zM152.2 222.4l2.3 1.4l-2.3 1.4zM152.2 228.7l2.3 1.4l-2.3 1.4zM158.5 83.8l2.3 1.4l-2.3 1.4zM158.5 90.1l2.3 1.4l-2.3 1.4zM158.5 96.4l2.3 1.4l-2.3 1.4zM158.5 102.7l2.3 1.4l-2.3 1.4zM158.5 109.0l2.3 1.4l-2.3 1.4zM158.5 115.3l2.3 1.4l-2.3 1.4zM158.5 121.6l2.3 1.4l-2.3 1.4zM158.5 127.9l2.3 1.4l-2.3 1.4zM158.5 134.2l2.3 1.4l-2.3 1.4zM158.5 140.5l2.3 1.4l-2.3 1.4zM158.5 146.8l2.3 1.4l-2.3 1.4zM158.5 153.1l2.3 1.4l-2.3 1.4zM158.5 159.4l2.3 1.4l-2.3 1.4zM158.5 165.7l2.3 1.4l-2.3 1.4zM158.5 172.0l2.3 1.4l-2.3 1.4zM158.5 178.3l2.3 1.4l-2.3 1.4zM158.5 184.6l2.3 1.4l-2.3 1.4zM158.5 190.9l2.3 1.4l-2.3 1.4zM158.5 197.2l2.3 1.4l-2.3 1.4zM158.5 203.5l2.3 1.4l-2.3 1.4zM158.5 209.8l2.3 1.4l-2.3 1.4zM158.5 216.1l2.3 1.4l-2.3 1.4zM158.5 222.4l2.3 1.4l-2.3 1.4zM158.5 228.7l2.3 1.4l-2.3 1.4zM138.6 80.6l-2.3 1.4l2.3 1.4zM138.6 86.9l-2.3 1.4l2.3 1.4zM138.6 93.2l-2.3 1.4l2.3 1.4zM138.6 99.5l-2.3 1.4l2.3 1.4zM138.6 105.8l-2.3 1.4l2.3 1.4zM138.6 112.1l-2.3 1.4l2.3 1.4zM138.6 118.4l-2.3 1.4l2.3 1.4zM138.6 124.7l-2.3 1.4l2.3 1.4zM138.6 131.0l-2.3 1.4l2.3 1.4zM138.6 137.3l-2.3 1.4l2.3 1.4zM138.6 143.6l-2.3 1.4l2.3 1.4zM138.6 149.9l-2.3 1.4l2.3 1.4zM138.6 156.2l-2.3 1.4l2.3 1.4zM138.6 162.5l-2.3 1.4l2.3 1.4zM138.6 168.8l-2.3 1.4l2.3 1.4zM138.6 175.1l-2.3 1.4l2.3 1.4zM138.6 181.4l-2.3 1.4l2.3 1.4zM138.6 187.7l-2.3 1.4l2.3 1.4zM138.6 194.0l-2.3 1.4l2.3 1.4zM138.6 200.3l-2.3 1.4l2.3 1.4zM138.6 206.6l-2.3 1.4l2.3 1.4zM138.6 212.9l-2.3 1.4l2.3 1.4zM138.6 219.2l-2.3 1.4l2.3 1.4zM138.6 225.5l-2.3 1.4l2.3 1.4zM138.6 231.8l-2.3 1.4l2.3 1.4zM144.9 80.6l-2.3 1.4l2.3 1.4zM144.9 86.9l-2.3 1.4l2.3 1.4zM144.9 93.2l-2.3 1.4l2.3 1.4zM144.9 99.5l-2.3 1.4l2.3 1.4zM144.9 105.8l-2.3 1.4l2.3 1.4zM144.9 112.1l-2.3 1.4l2.3 1.4zM144.9 118.4l-2.3 1.4l2.3 1.4zM144.9 124.7l-2.3 1.4l2.3 1.4zM144.9 131.0l-2.3 1.4l2.3 1.4zM144.9 137.3l-2.3 1.4l2.3 1.4zM144.9 143.6l-2.3 1.4l2.3 1.4zM144.9 149.9l-2.3 1.4l2.3 1.4zM144.9 156.2l-2.3 1.4l2.3 1.4zM144.9 162.5l-2.3 1.4l2.3 1.4zM144.9 168.8l-2.3 1.4l2.3 1.4zM144.9 175.1l-2.3 1.4l2.3 1.4zM144.9 181.4l-2.3 1.4l2.3 1.4zM144.9 187.7l-2.3 1.4l2.3 1.4zM144.9 194.0l-2.3 1.4l2.3 1.4zM144.9 200.3l-2.3 1.4l2.3 1.4zM144.9 206.6l-2.3 1.4l2.3 1.4zM144.9 212.9l-2.3 1.4l2.3 1.4zM144.9 219.2l-2.3 1.4l2.3 1.4zM144.9 225.5l-2.3 1.4l2.3 1.4zM144.9 231.8l-2.3 1.4l2.3 1.4zM151.2 80.6l-2.3 1.4l2.3 1.4zM151.2 86.9l-2.3 1.4l2.3 1.4zM151.2 93.2l-2.3 1.4l2.3 1.4zM151.2 99.5l-2.3 1.4l2.3 1.4zM151.2 105.8l-2.3 1.4l2.3 1.4zM151.2 112.1l-2.3 1.4l2.3 1.4zM151.2 118.4l-2.3 1.4l2.3 1.4zM151.2 124.7l-2.3 1.4l2.3 1.4zM151.2 131.0l-2.3 1.4l2.3 1.4zM151.2 137.3l-2.3 1.4l2.3 1.4zM151.2 143.6l-2.3 1.4l2.3 1.4zM151.2 149.9l-2.3 1.4l2.3 1.4zM151.2 156.2l-2.3 1.4l2.3 1.4zM151.2 162.5l-2.3 1.4l2.3 1.4zM151.2 168.8l-2.3 1.4l2.3 1.4zM151.2 175.1l-2.3 1.4l2.3 1.4zM151.2 181.4l-2.3 1.4l2.3 1.4zM151.2 187.7l-2.3 1.4l2.3 1.4zM151.2 194.0l-2.3 1.4l2.3 1.4zM151.2 200.3l-2.3 1.4l2.3 1.4zM151.2 206.6l-2.3 1.4l2.3 1.4zM151.2 212.9l-2.3 1.4l2.3 1.4zM151.2 219.2l-2.3 1.4l2.3 1.4zM151.2 225.5l-2.3 1.4l2.3 1.4zM151.2 231.8l-2.3 1.4l2.3 1.4zM157.5 80.6l-2.3 1.4l2.3 1.4zM157.5 86.9l-2.3 1.4l2.3 1.4zM157.5 93.2l-2.3 1.4l2.3 1.4zM157.5 99.5l-2.3 1.4l2.3 1.4zM157.5 105.8l-2.3 1.4l2.3 1.4zM157.5 112.1l-2.3 1.4l2.3 1.4zM157.5 118.4l-2.3 1.4l2.3 1.4zM157.5 124.7l-2.3 1.4l2.3 1.4zM157.5 131.0l-2.3 1.4l2.3 1.4zM157.5 137.3l-2.3 1.4l2.3 1.4zM157.5 143.6l-2.3 1.4l2.3 1.4zM157.5 149.9l-2.3 1.4l2.3 1.4zM157.5 156.2l-2.3 1.4l2.3 1.4zM157.5 162.5l-2.3 1.4l2.3 1.4zM157.5 168.8l-2.3 1.4l2.3 1.4zM157.5 175.1l-2.3 1.4l2.3 1.4zM157.5 181.4l-2.3 1.4l2.3 1.4zM157.5 187.7l-2.3 1.4l2.3 1.4zM157.5 194.0l-2.3 1.4l2.3 1.4zM157.5 200.3l-2.3 1.4l2.3 1.4zM157.5 206.6l-2.3 1.4l2.3 1.4zM157.5 212.9l-2.3 1.4l2.3 1.4zM157.5 219.2l-2.3 1.4l2.3 1.4zM157.5 225.5l-2.3 1.4l2.3 1.4zM157.5 231.8l-2.3 1.4l2.3 1.4z" fill="#5a5a5a"/>
<rect x="138.4" y="39.45" width="20.1" height="43.03" fill="#3b3a3a"/>
<clipPath id="c3h"><rect x="138.4" y="22.30" width="20.1" height="17.15"/></clipPath>
<rect x="138.4" y="22.30" width="20.1" height="17.15" fill="#fff"/>
<path clip-path="url(#c3h)" d="M136.40 17.18L160.50 -6.92M136.40 21.76L160.50 -2.34M136.40 26.34L160.50 2.24M136.40 30.92L160.50 6.82M136.40 35.50L160.50 11.40M136.40 40.08L160.50 15.98M136.40 44.66L160.50 20.56M136.40 49.24L160.50 25.14M136.40 53.82L160.50 29.72M136.40 58.40L160.50 34.30M136.40 62.98L160.50 38.88M136.40 67.56L160.50 43.46" stroke="#111" stroke-width="1.45" fill="none"/>
<path d="M138.4 82.47h20.1M138.4 39.45h20.1" stroke="#6a6a6a" stroke-width="0.8" fill="none"/>
<rect x="138.4" y="22.30" width="20.1" height="210.40" fill="none" stroke="#2a2a2a" stroke-width="1"/>
<clipPath id="c4d"><rect x="166.5" y="106.46" width="20.2" height="126.24"/></clipPath>
<rect x="166.5" y="106.46" width="20.2" height="126.24" fill="#fff"/>
<path clip-path="url(#c4d)" d="M164.8 109.0l2.3 1.4l-2.3 1.4zM164.8 115.3l2.3 1.4l-2.3 1.4zM164.8 121.6l2.3 1.4l-2.3 1.4zM164.8 127.9l2.3 1.4l-2.3 1.4zM164.8 134.2l2.3 1.4l-2.3 1.4zM164.8 140.5l2.3 1.4l-2.3 1.4zM164.8 146.8l2.3 1.4l-2.3 1.4zM164.8 153.1l2.3 1.4l-2.3 1.4zM164.8 159.4l2.3 1.4l-2.3 1.4zM164.8 165.7l2.3 1.4l-2.3 1.4zM164.8 172.0l2.3 1.4l-2.3 1.4zM164.8 178.3l2.3 1.4l-2.3 1.4zM164.8 184.6l2.3 1.4l-2.3 1.4zM164.8 190.9l2.3 1.4l-2.3 1.4zM164.8 197.2l2.3 1.4l-2.3 1.4zM164.8 203.5l2.3 1.4l-2.3 1.4zM164.8 209.8l2.3 1.4l-2.3 1.4zM164.8 216.1l2.3 1.4l-2.3 1.4zM164.8 222.4l2.3 1.4l-2.3 1.4zM164.8 228.7l2.3 1.4l-2.3 1.4zM171.1 109.0l2.3 1.4l-2.3 1.4zM171.1 115.3l2.3 1.4l-2.3 1.4zM171.1 121.6l2.3 1.4l-2.3 1.4zM171.1 127.9l2.3 1.4l-2.3 1.4zM171.1 134.2l2.3 1.4l-2.3 1.4zM171.1 140.5l2.3 1.4l-2.3 1.4zM171.1 146.8l2.3 1.4l-2.3 1.4zM171.1 153.1l2.3 1.4l-2.3 1.4zM171.1 159.4l2.3 1.4l-2.3 1.4zM171.1 165.7l2.3 1.4l-2.3 1.4zM171.1 172.0l2.3 1.4l-2.3 1.4zM171.1 178.3l2.3 1.4l-2.3 1.4zM171.1 184.6l2.3 1.4l-2.3 1.4zM171.1 190.9l2.3 1.4l-2.3 1.4zM171.1 197.2l2.3 1.4l-2.3 1.4zM171.1 203.5l2.3 1.4l-2.3 1.4zM171.1 209.8l2.3 1.4l-2.3 1.4zM171.1 216.1l2.3 1.4l-2.3 1.4zM171.1 222.4l2.3 1.4l-2.3 1.4zM171.1 228.7l2.3 1.4l-2.3 1.4zM177.4 109.0l2.3 1.4l-2.3 1.4zM177.4 115.3l2.3 1.4l-2.3 1.4zM177.4 121.6l2.3 1.4l-2.3 1.4zM177.4 127.9l2.3 1.4l-2.3 1.4zM177.4 134.2l2.3 1.4l-2.3 1.4zM177.4 140.5l2.3 1.4l-2.3 1.4zM177.4 146.8l2.3 1.4l-2.3 1.4zM177.4 153.1l2.3 1.4l-2.3 1.4zM177.4 159.4l2.3 1.4l-2.3 1.4zM177.4 165.7l2.3 1.4l-2.3 1.4zM177.4 172.0l2.3 1.4l-2.3 1.4zM177.4 178.3l2.3 1.4l-2.3 1.4zM177.4 184.6l2.3 1.4l-2.3 1.4zM177.4 190.9l2.3 1.4l-2.3 1.4zM177.4 197.2l2.3 1.4l-2.3 1.4zM177.4 203.5l2.3 1.4l-2.3 1.4zM177.4 209.8l2.3 1.4l-2.3 1.4zM177.4 216.1l2.3 1.4l-2.3 1.4zM177.4 222.4l2.3 1.4l-2.3 1.4zM177.4 228.7l2.3 1.4l-2.3 1.4zM183.7 109.0l2.3 1.4l-2.3 1.4zM183.7 115.3l2.3 1.4l-2.3 1.4zM183.7 121.6l2.3 1.4l-2.3 1.4zM183.7 127.9l2.3 1.4l-2.3 1.4zM183.7 134.2l2.3 1.4l-2.3 1.4zM183.7 140.5l2.3 1.4l-2.3 1.4zM183.7 146.8l2.3 1.4l-2.3 1.4zM183.7 153.1l2.3 1.4l-2.3 1.4zM183.7 159.4l2.3 1.4l-2.3 1.4zM183.7 165.7l2.3 1.4l-2.3 1.4zM183.7 172.0l2.3 1.4l-2.3 1.4zM183.7 178.3l2.3 1.4l-2.3 1.4zM183.7 184.6l2.3 1.4l-2.3 1.4zM183.7 190.9l2.3 1.4l-2.3 1.4zM183.7 197.2l2.3 1.4l-2.3 1.4zM183.7 203.5l2.3 1.4l-2.3 1.4zM183.7 209.8l2.3 1.4l-2.3 1.4zM183.7 216.1l2.3 1.4l-2.3 1.4zM183.7 222.4l2.3 1.4l-2.3 1.4zM183.7 228.7l2.3 1.4l-2.3 1.4zM170.1 105.8l-2.3 1.4l2.3 1.4zM170.1 112.1l-2.3 1.4l2.3 1.4zM170.1 118.4l-2.3 1.4l2.3 1.4zM170.1 124.7l-2.3 1.4l2.3 1.4zM170.1 131.0l-2.3 1.4l2.3 1.4zM170.1 137.3l-2.3 1.4l2.3 1.4zM170.1 143.6l-2.3 1.4l2.3 1.4zM170.1 149.9l-2.3 1.4l2.3 1.4zM170.1 156.2l-2.3 1.4l2.3 1.4zM170.1 162.5l-2.3 1.4l2.3 1.4zM170.1 168.8l-2.3 1.4l2.3 1.4zM170.1 175.1l-2.3 1.4l2.3 1.4zM170.1 181.4l-2.3 1.4l2.3 1.4zM170.1 187.7l-2.3 1.4l2.3 1.4zM170.1 194.0l-2.3 1.4l2.3 1.4zM170.1 200.3l-2.3 1.4l2.3 1.4zM170.1 206.6l-2.3 1.4l2.3 1.4zM170.1 212.9l-2.3 1.4l2.3 1.4zM170.1 219.2l-2.3 1.4l2.3 1.4zM170.1 225.5l-2.3 1.4l2.3 1.4zM170.1 231.8l-2.3 1.4l2.3 1.4zM176.4 105.8l-2.3 1.4l2.3 1.4zM176.4 112.1l-2.3 1.4l2.3 1.4zM176.4 118.4l-2.3 1.4l2.3 1.4zM176.4 124.7l-2.3 1.4l2.3 1.4zM176.4 131.0l-2.3 1.4l2.3 1.4zM176.4 137.3l-2.3 1.4l2.3 1.4zM176.4 143.6l-2.3 1.4l2.3 1.4zM176.4 149.9l-2.3 1.4l2.3 1.4zM176.4 156.2l-2.3 1.4l2.3 1.4zM176.4 162.5l-2.3 1.4l2.3 1.4zM176.4 168.8l-2.3 1.4l2.3 1.4zM176.4 175.1l-2.3 1.4l2.3 1.4zM176.4 181.4l-2.3 1.4l2.3 1.4zM176.4 187.7l-2.3 1.4l2.3 1.4zM176.4 194.0l-2.3 1.4l2.3 1.4zM176.4 200.3l-2.3 1.4l2.3 1.4zM176.4 206.6l-2.3 1.4l2.3 1.4zM176.4 212.9l-2.3 1.4l2.3 1.4zM176.4 219.2l-2.3 1.4l2.3 1.4zM176.4 225.5l-2.3 1.4l2.3 1.4zM176.4 231.8l-2.3 1.4l2.3 1.4zM182.8 105.8l-2.3 1.4l2.3 1.4zM182.8 112.1l-2.3 1.4l2.3 1.4zM182.8 118.4l-2.3 1.4l2.3 1.4zM182.8 124.7l-2.3 1.4l2.3 1.4zM182.8 131.0l-2.3 1.4l2.3 1.4zM182.8 137.3l-2.3 1.4l2.3 1.4zM182.8 143.6l-2.3 1.4l2.3 1.4zM182.8 149.9l-2.3 1.4l2.3 1.4zM182.8 156.2l-2.3 1.4l2.3 1.4zM182.8 162.5l-2.3 1.4l2.3 1.4zM182.8 168.8l-2.3 1.4l2.3 1.4zM182.8 175.1l-2.3 1.4l2.3 1.4zM182.8 181.4l-2.3 1.4l2.3 1.4zM182.8 187.7l-2.3 1.4l2.3 1.4zM182.8 194.0l-2.3 1.4l2.3 1.4zM182.8 200.3l-2.3 1.4l2.3 1.4zM182.8 206.6l-2.3 1.4l2.3 1.4zM182.8 212.9l-2.3 1.4l2.3 1.4zM182.8 219.2l-2.3 1.4l2.3 1.4zM182.8 225.5l-2.3 1.4l2.3 1.4zM182.8 231.8l-2.3 1.4l2.3 1.4zM189.0 105.8l-2.3 1.4l2.3 1.4zM189.0 112.1l-2.3 1.4l2.3 1.4zM189.0 118.4l-2.3 1.4l2.3 1.4zM189.0 124.7l-2.3 1.4l2.3 1.4zM189.0 131.0l-2.3 1.4l2.3 1.4zM189.0 137.3l-2.3 1.4l2.3 1.4zM189.0 143.6l-2.3 1.4l2.3 1.4zM189.0 149.9l-2.3 1.4l2.3 1.4zM189.0 156.2l-2.3 1.4l2.3 1.4zM189.0 162.5l-2.3 1.4l2.3 1.4zM189.0 168.8l-2.3 1.4l2.3 1.4zM189.0 175.1l-2.3 1.4l2.3 1.4zM189.0 181.4l-2.3 1.4l2.3 1.4zM189.0 187.7l-2.3 1.4l2.3 1.4zM189.0 194.0l-2.3 1.4l2.3 1.4zM189.0 200.3l-2.3 1.4l2.3 1.4zM189.0 206.6l-2.3 1.4l2.3 1.4zM189.0 212.9l-2.3 1.4l2.3 1.4zM189.0 219.2l-2.3 1.4l2.3 1.4zM189.0 225.5l-2.3 1.4l2.3 1.4zM189.0 231.8l-2.3 1.4l2.3 1.4z" fill="#5a5a5a"/>
<rect x="166.5" y="56.81" width="20.2" height="49.65" fill="#3b3a3a"/>
<clipPath id="c4h"><rect x="166.5" y="22.30" width="20.2" height="34.51"/></clipPath>
<rect x="166.5" y="22.30" width="20.2" height="34.51" fill="#fff"/>
<path clip-path="url(#c4h)" d="M164.50 16.56L188.70 -7.64M164.50 21.14L188.70 -3.06M164.50 25.72L188.70 1.52M164.50 30.30L188.70 6.10M164.50 34.88L188.70 10.68M164.50 39.46L188.70 15.26M164.50 44.04L188.70 19.84M164.50 48.62L188.70 24.42M164.50 53.20L188.70 29.00M164.50 57.78L188.70 33.58M164.50 62.36L188.70 38.16M164.50 66.94L188.70 42.74M164.50 71.52L188.70 47.32M164.50 76.10L188.70 51.90M164.50 80.68L188.70 56.48M164.50 85.26L188.70 61.06" stroke="#111" stroke-width="1.45" fill="none"/>
<path d="M166.5 106.46h20.2M166.5 56.81h20.2" stroke="#6a6a6a" stroke-width="0.8" fill="none"/>
<rect x="166.5" y="22.30" width="20.2" height="210.40" fill="none" stroke="#2a2a2a" stroke-width="1"/>
<clipPath id="c5d"><rect x="223.4" y="81.21" width="20.5" height="151.49"/></clipPath>
<rect x="223.4" y="81.21" width="20.5" height="151.49" fill="#fff"/>
<path clip-path="url(#c5d)" d="M221.5 83.8l2.3 1.4l-2.3 1.4zM221.5 90.1l2.3 1.4l-2.3 1.4zM221.5 96.4l2.3 1.4l-2.3 1.4zM221.5 102.7l2.3 1.4l-2.3 1.4zM221.5 109.0l2.3 1.4l-2.3 1.4zM221.5 115.3l2.3 1.4l-2.3 1.4zM221.5 121.6l2.3 1.4l-2.3 1.4zM221.5 127.9l2.3 1.4l-2.3 1.4zM221.5 134.2l2.3 1.4l-2.3 1.4zM221.5 140.5l2.3 1.4l-2.3 1.4zM221.5 146.8l2.3 1.4l-2.3 1.4zM221.5 153.1l2.3 1.4l-2.3 1.4zM221.5 159.4l2.3 1.4l-2.3 1.4zM221.5 165.7l2.3 1.4l-2.3 1.4zM221.5 172.0l2.3 1.4l-2.3 1.4zM221.5 178.3l2.3 1.4l-2.3 1.4zM221.5 184.6l2.3 1.4l-2.3 1.4zM221.5 190.9l2.3 1.4l-2.3 1.4zM221.5 197.2l2.3 1.4l-2.3 1.4zM221.5 203.5l2.3 1.4l-2.3 1.4zM221.5 209.8l2.3 1.4l-2.3 1.4zM221.5 216.1l2.3 1.4l-2.3 1.4zM221.5 222.4l2.3 1.4l-2.3 1.4zM221.5 228.7l2.3 1.4l-2.3 1.4zM227.8 83.8l2.3 1.4l-2.3 1.4zM227.8 90.1l2.3 1.4l-2.3 1.4zM227.8 96.4l2.3 1.4l-2.3 1.4zM227.8 102.7l2.3 1.4l-2.3 1.4zM227.8 109.0l2.3 1.4l-2.3 1.4zM227.8 115.3l2.3 1.4l-2.3 1.4zM227.8 121.6l2.3 1.4l-2.3 1.4zM227.8 127.9l2.3 1.4l-2.3 1.4zM227.8 134.2l2.3 1.4l-2.3 1.4zM227.8 140.5l2.3 1.4l-2.3 1.4zM227.8 146.8l2.3 1.4l-2.3 1.4zM227.8 153.1l2.3 1.4l-2.3 1.4zM227.8 159.4l2.3 1.4l-2.3 1.4zM227.8 165.7l2.3 1.4l-2.3 1.4zM227.8 172.0l2.3 1.4l-2.3 1.4zM227.8 178.3l2.3 1.4l-2.3 1.4zM227.8 184.6l2.3 1.4l-2.3 1.4zM227.8 190.9l2.3 1.4l-2.3 1.4zM227.8 197.2l2.3 1.4l-2.3 1.4zM227.8 203.5l2.3 1.4l-2.3 1.4zM227.8 209.8l2.3 1.4l-2.3 1.4zM227.8 216.1l2.3 1.4l-2.3 1.4zM227.8 222.4l2.3 1.4l-2.3 1.4zM227.8 228.7l2.3 1.4l-2.3 1.4zM234.1 83.8l2.3 1.4l-2.3 1.4zM234.1 90.1l2.3 1.4l-2.3 1.4zM234.1 96.4l2.3 1.4l-2.3 1.4zM234.1 102.7l2.3 1.4l-2.3 1.4zM234.1 109.0l2.3 1.4l-2.3 1.4zM234.1 115.3l2.3 1.4l-2.3 1.4zM234.1 121.6l2.3 1.4l-2.3 1.4zM234.1 127.9l2.3 1.4l-2.3 1.4zM234.1 134.2l2.3 1.4l-2.3 1.4zM234.1 140.5l2.3 1.4l-2.3 1.4zM234.1 146.8l2.3 1.4l-2.3 1.4zM234.1 153.1l2.3 1.4l-2.3 1.4zM234.1 159.4l2.3 1.4l-2.3 1.4zM234.1 165.7l2.3 1.4l-2.3 1.4zM234.1 172.0l2.3 1.4l-2.3 1.4zM234.1 178.3l2.3 1.4l-2.3 1.4zM234.1 184.6l2.3 1.4l-2.3 1.4zM234.1 190.9l2.3 1.4l-2.3 1.4zM234.1 197.2l2.3 1.4l-2.3 1.4zM234.1 203.5l2.3 1.4l-2.3 1.4zM234.1 209.8l2.3 1.4l-2.3 1.4zM234.1 216.1l2.3 1.4l-2.3 1.4zM234.1 222.4l2.3 1.4l-2.3 1.4zM234.1 228.7l2.3 1.4l-2.3 1.4zM240.4 83.8l2.3 1.4l-2.3 1.4zM240.4 90.1l2.3 1.4l-2.3 1.4zM240.4 96.4l2.3 1.4l-2.3 1.4zM240.4 102.7l2.3 1.4l-2.3 1.4zM240.4 109.0l2.3 1.4l-2.3 1.4zM240.4 115.3l2.3 1.4l-2.3 1.4zM240.4 121.6l2.3 1.4l-2.3 1.4zM240.4 127.9l2.3 1.4l-2.3 1.4zM240.4 134.2l2.3 1.4l-2.3 1.4zM240.4 140.5l2.3 1.4l-2.3 1.4zM240.4 146.8l2.3 1.4l-2.3 1.4zM240.4 153.1l2.3 1.4l-2.3 1.4zM240.4 159.4l2.3 1.4l-2.3 1.4zM240.4 165.7l2.3 1.4l-2.3 1.4zM240.4 172.0l2.3 1.4l-2.3 1.4zM240.4 178.3l2.3 1.4l-2.3 1.4zM240.4 184.6l2.3 1.4l-2.3 1.4zM240.4 190.9l2.3 1.4l-2.3 1.4zM240.4 197.2l2.3 1.4l-2.3 1.4zM240.4 203.5l2.3 1.4l-2.3 1.4zM240.4 209.8l2.3 1.4l-2.3 1.4zM240.4 216.1l2.3 1.4l-2.3 1.4zM240.4 222.4l2.3 1.4l-2.3 1.4zM240.4 228.7l2.3 1.4l-2.3 1.4zM226.8 80.6l-2.3 1.4l2.3 1.4zM226.8 86.9l-2.3 1.4l2.3 1.4zM226.8 93.2l-2.3 1.4l2.3 1.4zM226.8 99.5l-2.3 1.4l2.3 1.4zM226.8 105.8l-2.3 1.4l2.3 1.4zM226.8 112.1l-2.3 1.4l2.3 1.4zM226.8 118.4l-2.3 1.4l2.3 1.4zM226.8 124.7l-2.3 1.4l2.3 1.4zM226.8 131.0l-2.3 1.4l2.3 1.4zM226.8 137.3l-2.3 1.4l2.3 1.4zM226.8 143.6l-2.3 1.4l2.3 1.4zM226.8 149.9l-2.3 1.4l2.3 1.4zM226.8 156.2l-2.3 1.4l2.3 1.4zM226.8 162.5l-2.3 1.4l2.3 1.4zM226.8 168.8l-2.3 1.4l2.3 1.4zM226.8 175.1l-2.3 1.4l2.3 1.4zM226.8 181.4l-2.3 1.4l2.3 1.4zM226.8 187.7l-2.3 1.4l2.3 1.4zM226.8 194.0l-2.3 1.4l2.3 1.4zM226.8 200.3l-2.3 1.4l2.3 1.4zM226.8 206.6l-2.3 1.4l2.3 1.4zM226.8 212.9l-2.3 1.4l2.3 1.4zM226.8 219.2l-2.3 1.4l2.3 1.4zM226.8 225.5l-2.3 1.4l2.3 1.4zM226.8 231.8l-2.3 1.4l2.3 1.4zM233.2 80.6l-2.3 1.4l2.3 1.4zM233.2 86.9l-2.3 1.4l2.3 1.4zM233.2 93.2l-2.3 1.4l2.3 1.4zM233.2 99.5l-2.3 1.4l2.3 1.4zM233.2 105.8l-2.3 1.4l2.3 1.4zM233.2 112.1l-2.3 1.4l2.3 1.4zM233.2 118.4l-2.3 1.4l2.3 1.4zM233.2 124.7l-2.3 1.4l2.3 1.4zM233.2 131.0l-2.3 1.4l2.3 1.4zM233.2 137.3l-2.3 1.4l2.3 1.4zM233.2 143.6l-2.3 1.4l2.3 1.4zM233.2 149.9l-2.3 1.4l2.3 1.4zM233.2 156.2l-2.3 1.4l2.3 1.4zM233.2 162.5l-2.3 1.4l2.3 1.4zM233.2 168.8l-2.3 1.4l2.3 1.4zM233.2 175.1l-2.3 1.4l2.3 1.4zM233.2 181.4l-2.3 1.4l2.3 1.4zM233.2 187.7l-2.3 1.4l2.3 1.4zM233.2 194.0l-2.3 1.4l2.3 1.4zM233.2 200.3l-2.3 1.4l2.3 1.4zM233.2 206.6l-2.3 1.4l2.3 1.4zM233.2 212.9l-2.3 1.4l2.3 1.4zM233.2 219.2l-2.3 1.4l2.3 1.4zM233.2 225.5l-2.3 1.4l2.3 1.4zM233.2 231.8l-2.3 1.4l2.3 1.4zM239.4 80.6l-2.3 1.4l2.3 1.4zM239.4 86.9l-2.3 1.4l2.3 1.4zM239.4 93.2l-2.3 1.4l2.3 1.4zM239.4 99.5l-2.3 1.4l2.3 1.4zM239.4 105.8l-2.3 1.4l2.3 1.4zM239.4 112.1l-2.3 1.4l2.3 1.4zM239.4 118.4l-2.3 1.4l2.3 1.4zM239.4 124.7l-2.3 1.4l2.3 1.4zM239.4 131.0l-2.3 1.4l2.3 1.4zM239.4 137.3l-2.3 1.4l2.3 1.4zM239.4 143.6l-2.3 1.4l2.3 1.4zM239.4 149.9l-2.3 1.4l2.3 1.4zM239.4 156.2l-2.3 1.4l2.3 1.4zM239.4 162.5l-2.3 1.4l2.3 1.4zM239.4 168.8l-2.3 1.4l2.3 1.4zM239.4 175.1l-2.3 1.4l2.3 1.4zM239.4 181.4l-2.3 1.4l2.3 1.4zM239.4 187.7l-2.3 1.4l2.3 1.4zM239.4 194.0l-2.3 1.4l2.3 1.4zM239.4 200.3l-2.3 1.4l2.3 1.4zM239.4 206.6l-2.3 1.4l2.3 1.4zM239.4 212.9l-2.3 1.4l2.3 1.4zM239.4 219.2l-2.3 1.4l2.3 1.4zM239.4 225.5l-2.3 1.4l2.3 1.4zM239.4 231.8l-2.3 1.4l2.3 1.4zM245.8 80.6l-2.3 1.4l2.3 1.4zM245.8 86.9l-2.3 1.4l2.3 1.4zM245.8 93.2l-2.3 1.4l2.3 1.4zM245.8 99.5l-2.3 1.4l2.3 1.4zM245.8 105.8l-2.3 1.4l2.3 1.4zM245.8 112.1l-2.3 1.4l2.3 1.4zM245.8 118.4l-2.3 1.4l2.3 1.4zM245.8 124.7l-2.3 1.4l2.3 1.4zM245.8 131.0l-2.3 1.4l2.3 1.4zM245.8 137.3l-2.3 1.4l2.3 1.4zM245.8 143.6l-2.3 1.4l2.3 1.4zM245.8 149.9l-2.3 1.4l2.3 1.4zM245.8 156.2l-2.3 1.4l2.3 1.4zM245.8 162.5l-2.3 1.4l2.3 1.4zM245.8 168.8l-2.3 1.4l2.3 1.4zM245.8 175.1l-2.3 1.4l2.3 1.4zM245.8 181.4l-2.3 1.4l2.3 1.4zM245.8 187.7l-2.3 1.4l2.3 1.4zM245.8 194.0l-2.3 1.4l2.3 1.4zM245.8 200.3l-2.3 1.4l2.3 1.4zM245.8 206.6l-2.3 1.4l2.3 1.4zM245.8 212.9l-2.3 1.4l2.3 1.4zM245.8 219.2l-2.3 1.4l2.3 1.4zM245.8 225.5l-2.3 1.4l2.3 1.4zM245.8 231.8l-2.3 1.4l2.3 1.4z" fill="#5a5a5a"/>
<rect x="223.4" y="69.22" width="20.5" height="11.99" fill="#3b3a3a"/>
<clipPath id="c5h"><rect x="223.4" y="51.12" width="20.5" height="18.09"/></clipPath>
<rect x="223.4" y="51.12" width="20.5" height="18.09" fill="#fff"/>
<path clip-path="url(#c5h)" d="M221.40 46.68L245.90 22.18M221.40 51.26L245.90 26.76M221.40 55.84L245.90 31.34M221.40 60.42L245.90 35.92M221.40 65.00L245.90 40.50M221.40 69.58L245.90 45.08M221.40 74.16L245.90 49.66M221.40 78.74L245.90 54.24M221.40 83.32L245.90 58.82M221.40 87.90L245.90 63.40M221.40 92.48L245.90 67.98M221.40 97.06L245.90 72.56" stroke="#111" stroke-width="1.45" fill="none"/>
<rect x="223.4" y="22.30" width="20.5" height="28.82" fill="#cccaca"/>
<path d="M223.4 81.21h20.5M223.4 69.22h20.5M223.4 51.12h20.5" stroke="#6a6a6a" stroke-width="0.8" fill="none"/>
<rect x="223.4" y="22.30" width="20.5" height="210.40" fill="none" stroke="#2a2a2a" stroke-width="1"/>
<clipPath id="c6d"><rect x="252.1" y="67.33" width="20.3" height="165.37"/></clipPath>
<rect x="252.1" y="67.33" width="20.3" height="165.37" fill="#fff"/>
<path clip-path="url(#c6d)" d="M253.0 64.9l2.3 1.4l-2.3 1.4zM253.0 71.2l2.3 1.4l-2.3 1.4zM253.0 77.5l2.3 1.4l-2.3 1.4zM253.0 83.8l2.3 1.4l-2.3 1.4zM253.0 90.1l2.3 1.4l-2.3 1.4zM253.0 96.4l2.3 1.4l-2.3 1.4zM253.0 102.7l2.3 1.4l-2.3 1.4zM253.0 109.0l2.3 1.4l-2.3 1.4zM253.0 115.3l2.3 1.4l-2.3 1.4zM253.0 121.6l2.3 1.4l-2.3 1.4zM253.0 127.9l2.3 1.4l-2.3 1.4zM253.0 134.2l2.3 1.4l-2.3 1.4zM253.0 140.5l2.3 1.4l-2.3 1.4zM253.0 146.8l2.3 1.4l-2.3 1.4zM253.0 153.1l2.3 1.4l-2.3 1.4zM253.0 159.4l2.3 1.4l-2.3 1.4zM253.0 165.7l2.3 1.4l-2.3 1.4zM253.0 172.0l2.3 1.4l-2.3 1.4zM253.0 178.3l2.3 1.4l-2.3 1.4zM253.0 184.6l2.3 1.4l-2.3 1.4zM253.0 190.9l2.3 1.4l-2.3 1.4zM253.0 197.2l2.3 1.4l-2.3 1.4zM253.0 203.5l2.3 1.4l-2.3 1.4zM253.0 209.8l2.3 1.4l-2.3 1.4zM253.0 216.1l2.3 1.4l-2.3 1.4zM253.0 222.4l2.3 1.4l-2.3 1.4zM253.0 228.7l2.3 1.4l-2.3 1.4zM259.3 64.9l2.3 1.4l-2.3 1.4zM259.3 71.2l2.3 1.4l-2.3 1.4zM259.3 77.5l2.3 1.4l-2.3 1.4zM259.3 83.8l2.3 1.4l-2.3 1.4zM259.3 90.1l2.3 1.4l-2.3 1.4zM259.3 96.4l2.3 1.4l-2.3 1.4zM259.3 102.7l2.3 1.4l-2.3 1.4zM259.3 109.0l2.3 1.4l-2.3 1.4zM259.3 115.3l2.3 1.4l-2.3 1.4zM259.3 121.6l2.3 1.4l-2.3 1.4zM259.3 127.9l2.3 1.4l-2.3 1.4zM259.3 134.2l2.3 1.4l-2.3 1.4zM259.3 140.5l2.3 1.4l-2.3 1.4zM259.3 146.8l2.3 1.4l-2.3 1.4zM259.3 153.1l2.3 1.4l-2.3 1.4zM259.3 159.4l2.3 1.4l-2.3 1.4zM259.3 165.7l2.3 1.4l-2.3 1.4zM259.3 172.0l2.3 1.4l-2.3 1.4zM259.3 178.3l2.3 1.4l-2.3 1.4zM259.3 184.6l2.3 1.4l-2.3 1.4zM259.3 190.9l2.3 1.4l-2.3 1.4zM259.3 197.2l2.3 1.4l-2.3 1.4zM259.3 203.5l2.3 1.4l-2.3 1.4zM259.3 209.8l2.3 1.4l-2.3 1.4zM259.3 216.1l2.3 1.4l-2.3 1.4zM259.3 222.4l2.3 1.4l-2.3 1.4zM259.3 228.7l2.3 1.4l-2.3 1.4zM265.6 64.9l2.3 1.4l-2.3 1.4zM265.6 71.2l2.3 1.4l-2.3 1.4zM265.6 77.5l2.3 1.4l-2.3 1.4zM265.6 83.8l2.3 1.4l-2.3 1.4zM265.6 90.1l2.3 1.4l-2.3 1.4zM265.6 96.4l2.3 1.4l-2.3 1.4zM265.6 102.7l2.3 1.4l-2.3 1.4zM265.6 109.0l2.3 1.4l-2.3 1.4zM265.6 115.3l2.3 1.4l-2.3 1.4zM265.6 121.6l2.3 1.4l-2.3 1.4zM265.6 127.9l2.3 1.4l-2.3 1.4zM265.6 134.2l2.3 1.4l-2.3 1.4zM265.6 140.5l2.3 1.4l-2.3 1.4zM265.6 146.8l2.3 1.4l-2.3 1.4zM265.6 153.1l2.3 1.4l-2.3 1.4zM265.6 159.4l2.3 1.4l-2.3 1.4zM265.6 165.7l2.3 1.4l-2.3 1.4zM265.6 172.0l2.3 1.4l-2.3 1.4zM265.6 178.3l2.3 1.4l-2.3 1.4zM265.6 184.6l2.3 1.4l-2.3 1.4zM265.6 190.9l2.3 1.4l-2.3 1.4zM265.6 197.2l2.3 1.4l-2.3 1.4zM265.6 203.5l2.3 1.4l-2.3 1.4zM265.6 209.8l2.3 1.4l-2.3 1.4zM265.6 216.1l2.3 1.4l-2.3 1.4zM265.6 222.4l2.3 1.4l-2.3 1.4zM265.6 228.7l2.3 1.4l-2.3 1.4zM271.9 64.9l2.3 1.4l-2.3 1.4zM271.9 71.2l2.3 1.4l-2.3 1.4zM271.9 77.5l2.3 1.4l-2.3 1.4zM271.9 83.8l2.3 1.4l-2.3 1.4zM271.9 90.1l2.3 1.4l-2.3 1.4zM271.9 96.4l2.3 1.4l-2.3 1.4zM271.9 102.7l2.3 1.4l-2.3 1.4zM271.9 109.0l2.3 1.4l-2.3 1.4zM271.9 115.3l2.3 1.4l-2.3 1.4zM271.9 121.6l2.3 1.4l-2.3 1.4zM271.9 127.9l2.3 1.4l-2.3 1.4zM271.9 134.2l2.3 1.4l-2.3 1.4zM271.9 140.5l2.3 1.4l-2.3 1.4zM271.9 146.8l2.3 1.4l-2.3 1.4zM271.9 153.1l2.3 1.4l-2.3 1.4zM271.9 159.4l2.3 1.4l-2.3 1.4zM271.9 165.7l2.3 1.4l-2.3 1.4zM271.9 172.0l2.3 1.4l-2.3 1.4zM271.9 178.3l2.3 1.4l-2.3 1.4zM271.9 184.6l2.3 1.4l-2.3 1.4zM271.9 190.9l2.3 1.4l-2.3 1.4zM271.9 197.2l2.3 1.4l-2.3 1.4zM271.9 203.5l2.3 1.4l-2.3 1.4zM271.9 209.8l2.3 1.4l-2.3 1.4zM271.9 216.1l2.3 1.4l-2.3 1.4zM271.9 222.4l2.3 1.4l-2.3 1.4zM271.9 228.7l2.3 1.4l-2.3 1.4zM252.0 68.0l-2.3 1.4l2.3 1.4zM252.0 74.3l-2.3 1.4l2.3 1.4zM252.0 80.6l-2.3 1.4l2.3 1.4zM252.0 86.9l-2.3 1.4l2.3 1.4zM252.0 93.2l-2.3 1.4l2.3 1.4zM252.0 99.5l-2.3 1.4l2.3 1.4zM252.0 105.8l-2.3 1.4l2.3 1.4zM252.0 112.1l-2.3 1.4l2.3 1.4zM252.0 118.4l-2.3 1.4l2.3 1.4zM252.0 124.7l-2.3 1.4l2.3 1.4zM252.0 131.0l-2.3 1.4l2.3 1.4zM252.0 137.3l-2.3 1.4l2.3 1.4zM252.0 143.6l-2.3 1.4l2.3 1.4zM252.0 149.9l-2.3 1.4l2.3 1.4zM252.0 156.2l-2.3 1.4l2.3 1.4zM252.0 162.5l-2.3 1.4l2.3 1.4zM252.0 168.8l-2.3 1.4l2.3 1.4zM252.0 175.1l-2.3 1.4l2.3 1.4zM252.0 181.4l-2.3 1.4l2.3 1.4zM252.0 187.7l-2.3 1.4l2.3 1.4zM252.0 194.0l-2.3 1.4l2.3 1.4zM252.0 200.3l-2.3 1.4l2.3 1.4zM252.0 206.6l-2.3 1.4l2.3 1.4zM252.0 212.9l-2.3 1.4l2.3 1.4zM252.0 219.2l-2.3 1.4l2.3 1.4zM252.0 225.5l-2.3 1.4l2.3 1.4zM252.0 231.8l-2.3 1.4l2.3 1.4zM258.4 68.0l-2.3 1.4l2.3 1.4zM258.4 74.3l-2.3 1.4l2.3 1.4zM258.4 80.6l-2.3 1.4l2.3 1.4zM258.4 86.9l-2.3 1.4l2.3 1.4zM258.4 93.2l-2.3 1.4l2.3 1.4zM258.4 99.5l-2.3 1.4l2.3 1.4zM258.4 105.8l-2.3 1.4l2.3 1.4zM258.4 112.1l-2.3 1.4l2.3 1.4zM258.4 118.4l-2.3 1.4l2.3 1.4zM258.4 124.7l-2.3 1.4l2.3 1.4zM258.4 131.0l-2.3 1.4l2.3 1.4zM258.4 137.3l-2.3 1.4l2.3 1.4zM258.4 143.6l-2.3 1.4l2.3 1.4zM258.4 149.9l-2.3 1.4l2.3 1.4zM258.4 156.2l-2.3 1.4l2.3 1.4zM258.4 162.5l-2.3 1.4l2.3 1.4zM258.4 168.8l-2.3 1.4l2.3 1.4zM258.4 175.1l-2.3 1.4l2.3 1.4zM258.4 181.4l-2.3 1.4l2.3 1.4zM258.4 187.7l-2.3 1.4l2.3 1.4zM258.4 194.0l-2.3 1.4l2.3 1.4zM258.4 200.3l-2.3 1.4l2.3 1.4zM258.4 206.6l-2.3 1.4l2.3 1.4zM258.4 212.9l-2.3 1.4l2.3 1.4zM258.4 219.2l-2.3 1.4l2.3 1.4zM258.4 225.5l-2.3 1.4l2.3 1.4zM258.4 231.8l-2.3 1.4l2.3 1.4zM264.7 68.0l-2.3 1.4l2.3 1.4zM264.7 74.3l-2.3 1.4l2.3 1.4zM264.7 80.6l-2.3 1.4l2.3 1.4zM264.7 86.9l-2.3 1.4l2.3 1.4zM264.7 93.2l-2.3 1.4l2.3 1.4zM264.7 99.5l-2.3 1.4l2.3 1.4zM264.7 105.8l-2.3 1.4l2.3 1.4zM264.7 112.1l-2.3 1.4l2.3 1.4zM264.7 118.4l-2.3 1.4l2.3 1.4zM264.7 124.7l-2.3 1.4l2.3 1.4zM264.7 131.0l-2.3 1.4l2.3 1.4zM264.7 137.3l-2.3 1.4l2.3 1.4zM264.7 143.6l-2.3 1.4l2.3 1.4zM264.7 149.9l-2.3 1.4l2.3 1.4zM264.7 156.2l-2.3 1.4l2.3 1.4zM264.7 162.5l-2.3 1.4l2.3 1.4zM264.7 168.8l-2.3 1.4l2.3 1.4zM264.7 175.1l-2.3 1.4l2.3 1.4zM264.7 181.4l-2.3 1.4l2.3 1.4zM264.7 187.7l-2.3 1.4l2.3 1.4zM264.7 194.0l-2.3 1.4l2.3 1.4zM264.7 200.3l-2.3 1.4l2.3 1.4zM264.7 206.6l-2.3 1.4l2.3 1.4zM264.7 212.9l-2.3 1.4l2.3 1.4zM264.7 219.2l-2.3 1.4l2.3 1.4zM264.7 225.5l-2.3 1.4l2.3 1.4zM264.7 231.8l-2.3 1.4l2.3 1.4zM270.9 68.0l-2.3 1.4l2.3 1.4zM270.9 74.3l-2.3 1.4l2.3 1.4zM270.9 80.6l-2.3 1.4l2.3 1.4zM270.9 86.9l-2.3 1.4l2.3 1.4zM270.9 93.2l-2.3 1.4l2.3 1.4zM270.9 99.5l-2.3 1.4l2.3 1.4zM270.9 105.8l-2.3 1.4l2.3 1.4zM270.9 112.1l-2.3 1.4l2.3 1.4zM270.9 118.4l-2.3 1.4l2.3 1.4zM270.9 124.7l-2.3 1.4l2.3 1.4zM270.9 131.0l-2.3 1.4l2.3 1.4zM270.9 137.3l-2.3 1.4l2.3 1.4zM270.9 143.6l-2.3 1.4l2.3 1.4zM270.9 149.9l-2.3 1.4l2.3 1.4zM270.9 156.2l-2.3 1.4l2.3 1.4zM270.9 162.5l-2.3 1.4l2.3 1.4zM270.9 168.8l-2.3 1.4l2.3 1.4zM270.9 175.1l-2.3 1.4l2.3 1.4zM270.9 181.4l-2.3 1.4l2.3 1.4zM270.9 187.7l-2.3 1.4l2.3 1.4zM270.9 194.0l-2.3 1.4l2.3 1.4zM270.9 200.3l-2.3 1.4l2.3 1.4zM270.9 206.6l-2.3 1.4l2.3 1.4zM270.9 212.9l-2.3 1.4l2.3 1.4zM270.9 219.2l-2.3 1.4l2.3 1.4zM270.9 225.5l-2.3 1.4l2.3 1.4zM270.9 231.8l-2.3 1.4l2.3 1.4z" fill="#5a5a5a"/>
<rect x="252.1" y="56.17" width="20.3" height="11.15" fill="#3b3a3a"/>
<clipPath id="c6h"><rect x="252.1" y="41.03" width="20.3" height="15.15"/></clipPath>
<rect x="252.1" y="41.03" width="20.3" height="15.15" fill="#fff"/>
<path clip-path="url(#c6h)" d="M250.10 36.30L274.40 12.00M250.10 40.88L274.40 16.58M250.10 45.46L274.40 21.16M250.10 50.04L274.40 25.74M250.10 54.62L274.40 30.32M250.10 59.20L274.40 34.90M250.10 63.78L274.40 39.48M250.10 68.36L274.40 44.06M250.10 72.94L274.40 48.64M250.10 77.52L274.40 53.22M250.10 82.10L274.40 57.80M250.10 86.68L274.40 62.38" stroke="#111" stroke-width="1.45" fill="none"/>
<rect x="252.1" y="22.30" width="20.3" height="18.73" fill="#cccaca"/>
<path d="M252.1 67.33h20.3M252.1 56.17h20.3M252.1 41.03h20.3" stroke="#6a6a6a" stroke-width="0.8" fill="none"/>
<rect x="252.1" y="22.30" width="20.3" height="210.40" fill="none" stroke="#2a2a2a" stroke-width="1"/>
<clipPath id="c7d"><rect x="280.4" y="75.74" width="20.2" height="156.96"/></clipPath>
<rect x="280.4" y="75.74" width="20.2" height="156.96" fill="#fff"/>
<path clip-path="url(#c7d)" d="M278.2 77.5l2.3 1.4l-2.3 1.4zM278.2 83.8l2.3 1.4l-2.3 1.4zM278.2 90.1l2.3 1.4l-2.3 1.4zM278.2 96.4l2.3 1.4l-2.3 1.4zM278.2 102.7l2.3 1.4l-2.3 1.4zM278.2 109.0l2.3 1.4l-2.3 1.4zM278.2 115.3l2.3 1.4l-2.3 1.4zM278.2 121.6l2.3 1.4l-2.3 1.4zM278.2 127.9l2.3 1.4l-2.3 1.4zM278.2 134.2l2.3 1.4l-2.3 1.4zM278.2 140.5l2.3 1.4l-2.3 1.4zM278.2 146.8l2.3 1.4l-2.3 1.4zM278.2 153.1l2.3 1.4l-2.3 1.4zM278.2 159.4l2.3 1.4l-2.3 1.4zM278.2 165.7l2.3 1.4l-2.3 1.4zM278.2 172.0l2.3 1.4l-2.3 1.4zM278.2 178.3l2.3 1.4l-2.3 1.4zM278.2 184.6l2.3 1.4l-2.3 1.4zM278.2 190.9l2.3 1.4l-2.3 1.4zM278.2 197.2l2.3 1.4l-2.3 1.4zM278.2 203.5l2.3 1.4l-2.3 1.4zM278.2 209.8l2.3 1.4l-2.3 1.4zM278.2 216.1l2.3 1.4l-2.3 1.4zM278.2 222.4l2.3 1.4l-2.3 1.4zM278.2 228.7l2.3 1.4l-2.3 1.4zM284.5 77.5l2.3 1.4l-2.3 1.4zM284.5 83.8l2.3 1.4l-2.3 1.4zM284.5 90.1l2.3 1.4l-2.3 1.4zM284.5 96.4l2.3 1.4l-2.3 1.4zM284.5 102.7l2.3 1.4l-2.3 1.4zM284.5 109.0l2.3 1.4l-2.3 1.4zM284.5 115.3l2.3 1.4l-2.3 1.4zM284.5 121.6l2.3 1.4l-2.3 1.4zM284.5 127.9l2.3 1.4l-2.3 1.4zM284.5 134.2l2.3 1.4l-2.3 1.4zM284.5 140.5l2.3 1.4l-2.3 1.4zM284.5 146.8l2.3 1.4l-2.3 1.4zM284.5 153.1l2.3 1.4l-2.3 1.4zM284.5 159.4l2.3 1.4l-2.3 1.4zM284.5 165.7l2.3 1.4l-2.3 1.4zM284.5 172.0l2.3 1.4l-2.3 1.4zM284.5 178.3l2.3 1.4l-2.3 1.4zM284.5 184.6l2.3 1.4l-2.3 1.4zM284.5 190.9l2.3 1.4l-2.3 1.4zM284.5 197.2l2.3 1.4l-2.3 1.4zM284.5 203.5l2.3 1.4l-2.3 1.4zM284.5 209.8l2.3 1.4l-2.3 1.4zM284.5 216.1l2.3 1.4l-2.3 1.4zM284.5 222.4l2.3 1.4l-2.3 1.4zM284.5 228.7l2.3 1.4l-2.3 1.4zM290.8 77.5l2.3 1.4l-2.3 1.4zM290.8 83.8l2.3 1.4l-2.3 1.4zM290.8 90.1l2.3 1.4l-2.3 1.4zM290.8 96.4l2.3 1.4l-2.3 1.4zM290.8 102.7l2.3 1.4l-2.3 1.4zM290.8 109.0l2.3 1.4l-2.3 1.4zM290.8 115.3l2.3 1.4l-2.3 1.4zM290.8 121.6l2.3 1.4l-2.3 1.4zM290.8 127.9l2.3 1.4l-2.3 1.4zM290.8 134.2l2.3 1.4l-2.3 1.4zM290.8 140.5l2.3 1.4l-2.3 1.4zM290.8 146.8l2.3 1.4l-2.3 1.4zM290.8 153.1l2.3 1.4l-2.3 1.4zM290.8 159.4l2.3 1.4l-2.3 1.4zM290.8 165.7l2.3 1.4l-2.3 1.4zM290.8 172.0l2.3 1.4l-2.3 1.4zM290.8 178.3l2.3 1.4l-2.3 1.4zM290.8 184.6l2.3 1.4l-2.3 1.4zM290.8 190.9l2.3 1.4l-2.3 1.4zM290.8 197.2l2.3 1.4l-2.3 1.4zM290.8 203.5l2.3 1.4l-2.3 1.4zM290.8 209.8l2.3 1.4l-2.3 1.4zM290.8 216.1l2.3 1.4l-2.3 1.4zM290.8 222.4l2.3 1.4l-2.3 1.4zM290.8 228.7l2.3 1.4l-2.3 1.4zM297.1 77.5l2.3 1.4l-2.3 1.4zM297.1 83.8l2.3 1.4l-2.3 1.4zM297.1 90.1l2.3 1.4l-2.3 1.4zM297.1 96.4l2.3 1.4l-2.3 1.4zM297.1 102.7l2.3 1.4l-2.3 1.4zM297.1 109.0l2.3 1.4l-2.3 1.4zM297.1 115.3l2.3 1.4l-2.3 1.4zM297.1 121.6l2.3 1.4l-2.3 1.4zM297.1 127.9l2.3 1.4l-2.3 1.4zM297.1 134.2l2.3 1.4l-2.3 1.4zM297.1 140.5l2.3 1.4l-2.3 1.4zM297.1 146.8l2.3 1.4l-2.3 1.4zM297.1 153.1l2.3 1.4l-2.3 1.4zM297.1 159.4l2.3 1.4l-2.3 1.4zM297.1 165.7l2.3 1.4l-2.3 1.4zM297.1 172.0l2.3 1.4l-2.3 1.4zM297.1 178.3l2.3 1.4l-2.3 1.4zM297.1 184.6l2.3 1.4l-2.3 1.4zM297.1 190.9l2.3 1.4l-2.3 1.4zM297.1 197.2l2.3 1.4l-2.3 1.4zM297.1 203.5l2.3 1.4l-2.3 1.4zM297.1 209.8l2.3 1.4l-2.3 1.4zM297.1 216.1l2.3 1.4l-2.3 1.4zM297.1 222.4l2.3 1.4l-2.3 1.4zM297.1 228.7l2.3 1.4l-2.3 1.4zM283.6 74.3l-2.3 1.4l2.3 1.4zM283.6 80.6l-2.3 1.4l2.3 1.4zM283.6 86.9l-2.3 1.4l2.3 1.4zM283.6 93.2l-2.3 1.4l2.3 1.4zM283.6 99.5l-2.3 1.4l2.3 1.4zM283.6 105.8l-2.3 1.4l2.3 1.4zM283.6 112.1l-2.3 1.4l2.3 1.4zM283.6 118.4l-2.3 1.4l2.3 1.4zM283.6 124.7l-2.3 1.4l2.3 1.4zM283.6 131.0l-2.3 1.4l2.3 1.4zM283.6 137.3l-2.3 1.4l2.3 1.4zM283.6 143.6l-2.3 1.4l2.3 1.4zM283.6 149.9l-2.3 1.4l2.3 1.4zM283.6 156.2l-2.3 1.4l2.3 1.4zM283.6 162.5l-2.3 1.4l2.3 1.4zM283.6 168.8l-2.3 1.4l2.3 1.4zM283.6 175.1l-2.3 1.4l2.3 1.4zM283.6 181.4l-2.3 1.4l2.3 1.4zM283.6 187.7l-2.3 1.4l2.3 1.4zM283.6 194.0l-2.3 1.4l2.3 1.4zM283.6 200.3l-2.3 1.4l2.3 1.4zM283.6 206.6l-2.3 1.4l2.3 1.4zM283.6 212.9l-2.3 1.4l2.3 1.4zM283.6 219.2l-2.3 1.4l2.3 1.4zM283.6 225.5l-2.3 1.4l2.3 1.4zM283.6 231.8l-2.3 1.4l2.3 1.4zM289.9 74.3l-2.3 1.4l2.3 1.4zM289.9 80.6l-2.3 1.4l2.3 1.4zM289.9 86.9l-2.3 1.4l2.3 1.4zM289.9 93.2l-2.3 1.4l2.3 1.4zM289.9 99.5l-2.3 1.4l2.3 1.4zM289.9 105.8l-2.3 1.4l2.3 1.4zM289.9 112.1l-2.3 1.4l2.3 1.4zM289.9 118.4l-2.3 1.4l2.3 1.4zM289.9 124.7l-2.3 1.4l2.3 1.4zM289.9 131.0l-2.3 1.4l2.3 1.4zM289.9 137.3l-2.3 1.4l2.3 1.4zM289.9 143.6l-2.3 1.4l2.3 1.4zM289.9 149.9l-2.3 1.4l2.3 1.4zM289.9 156.2l-2.3 1.4l2.3 1.4zM289.9 162.5l-2.3 1.4l2.3 1.4zM289.9 168.8l-2.3 1.4l2.3 1.4zM289.9 175.1l-2.3 1.4l2.3 1.4zM289.9 181.4l-2.3 1.4l2.3 1.4zM289.9 187.7l-2.3 1.4l2.3 1.4zM289.9 194.0l-2.3 1.4l2.3 1.4zM289.9 200.3l-2.3 1.4l2.3 1.4zM289.9 206.6l-2.3 1.4l2.3 1.4zM289.9 212.9l-2.3 1.4l2.3 1.4zM289.9 219.2l-2.3 1.4l2.3 1.4zM289.9 225.5l-2.3 1.4l2.3 1.4zM289.9 231.8l-2.3 1.4l2.3 1.4zM296.2 74.3l-2.3 1.4l2.3 1.4zM296.2 80.6l-2.3 1.4l2.3 1.4zM296.2 86.9l-2.3 1.4l2.3 1.4zM296.2 93.2l-2.3 1.4l2.3 1.4zM296.2 99.5l-2.3 1.4l2.3 1.4zM296.2 105.8l-2.3 1.4l2.3 1.4zM296.2 112.1l-2.3 1.4l2.3 1.4zM296.2 118.4l-2.3 1.4l2.3 1.4zM296.2 124.7l-2.3 1.4l2.3 1.4zM296.2 131.0l-2.3 1.4l2.3 1.4zM296.2 137.3l-2.3 1.4l2.3 1.4zM296.2 143.6l-2.3 1.4l2.3 1.4zM296.2 149.9l-2.3 1.4l2.3 1.4zM296.2 156.2l-2.3 1.4l2.3 1.4zM296.2 162.5l-2.3 1.4l2.3 1.4zM296.2 168.8l-2.3 1.4l2.3 1.4zM296.2 175.1l-2.3 1.4l2.3 1.4zM296.2 181.4l-2.3 1.4l2.3 1.4zM296.2 187.7l-2.3 1.4l2.3 1.4zM296.2 194.0l-2.3 1.4l2.3 1.4zM296.2 200.3l-2.3 1.4l2.3 1.4zM296.2 206.6l-2.3 1.4l2.3 1.4zM296.2 212.9l-2.3 1.4l2.3 1.4zM296.2 219.2l-2.3 1.4l2.3 1.4zM296.2 225.5l-2.3 1.4l2.3 1.4zM296.2 231.8l-2.3 1.4l2.3 1.4zM302.4 74.3l-2.3 1.4l2.3 1.4zM302.4 80.6l-2.3 1.4l2.3 1.4zM302.4 86.9l-2.3 1.4l2.3 1.4zM302.4 93.2l-2.3 1.4l2.3 1.4zM302.4 99.5l-2.3 1.4l2.3 1.4zM302.4 105.8l-2.3 1.4l2.3 1.4zM302.4 112.1l-2.3 1.4l2.3 1.4zM302.4 118.4l-2.3 1.4l2.3 1.4zM302.4 124.7l-2.3 1.4l2.3 1.4zM302.4 131.0l-2.3 1.4l2.3 1.4zM302.4 137.3l-2.3 1.4l2.3 1.4zM302.4 143.6l-2.3 1.4l2.3 1.4zM302.4 149.9l-2.3 1.4l2.3 1.4zM302.4 156.2l-2.3 1.4l2.3 1.4zM302.4 162.5l-2.3 1.4l2.3 1.4zM302.4 168.8l-2.3 1.4l2.3 1.4zM302.4 175.1l-2.3 1.4l2.3 1.4zM302.4 181.4l-2.3 1.4l2.3 1.4zM302.4 187.7l-2.3 1.4l2.3 1.4zM302.4 194.0l-2.3 1.4l2.3 1.4zM302.4 200.3l-2.3 1.4l2.3 1.4zM302.4 206.6l-2.3 1.4l2.3 1.4zM302.4 212.9l-2.3 1.4l2.3 1.4zM302.4 219.2l-2.3 1.4l2.3 1.4zM302.4 225.5l-2.3 1.4l2.3 1.4zM302.4 231.8l-2.3 1.4l2.3 1.4z" fill="#5a5a5a"/>
<rect x="280.4" y="63.33" width="20.2" height="12.41" fill="#3b3a3a"/>
<clipPath id="c7h"><rect x="280.4" y="51.97" width="20.2" height="11.36"/></clipPath>
<rect x="280.4" y="51.97" width="20.2" height="11.36" fill="#fff"/>
<path clip-path="url(#c7h)" d="M278.40 49.22L302.60 25.02M278.40 53.80L302.60 29.60M278.40 58.38L302.60 34.18M278.40 62.96L302.60 38.76M278.40 67.54L302.60 43.34M278.40 72.12L302.60 47.92M278.40 76.70L302.60 52.50M278.40 81.28L302.60 57.08M278.40 85.86L302.60 61.66M278.40 90.44L302.60 66.24" stroke="#111" stroke-width="1.45" fill="none"/>
<rect x="280.4" y="22.30" width="20.2" height="29.67" fill="#cccaca"/>
<path d="M280.4 75.74h20.2M280.4 63.33h20.2M280.4 51.97h20.2" stroke="#6a6a6a" stroke-width="0.8" fill="none"/>
<rect x="280.4" y="22.30" width="20.2" height="210.40" fill="none" stroke="#2a2a2a" stroke-width="1"/>
<clipPath id="c8d"><rect x="308.9" y="46.50" width="20.1" height="186.20"/></clipPath>
<rect x="308.9" y="46.50" width="20.1" height="186.20" fill="#fff"/>
<path clip-path="url(#c8d)" d="M309.7 46.0l2.3 1.4l-2.3 1.4zM309.7 52.3l2.3 1.4l-2.3 1.4zM309.7 58.6l2.3 1.4l-2.3 1.4zM309.7 64.9l2.3 1.4l-2.3 1.4zM309.7 71.2l2.3 1.4l-2.3 1.4zM309.7 77.5l2.3 1.4l-2.3 1.4zM309.7 83.8l2.3 1.4l-2.3 1.4zM309.7 90.1l2.3 1.4l-2.3 1.4zM309.7 96.4l2.3 1.4l-2.3 1.4zM309.7 102.7l2.3 1.4l-2.3 1.4zM309.7 109.0l2.3 1.4l-2.3 1.4zM309.7 115.3l2.3 1.4l-2.3 1.4zM309.7 121.6l2.3 1.4l-2.3 1.4zM309.7 127.9l2.3 1.4l-2.3 1.4zM309.7 134.2l2.3 1.4l-2.3 1.4zM309.7 140.5l2.3 1.4l-2.3 1.4zM309.7 146.8l2.3 1.4l-2.3 1.4zM309.7 153.1l2.3 1.4l-2.3 1.4zM309.7 159.4l2.3 1.4l-2.3 1.4zM309.7 165.7l2.3 1.4l-2.3 1.4zM309.7 172.0l2.3 1.4l-2.3 1.4zM309.7 178.3l2.3 1.4l-2.3 1.4zM309.7 184.6l2.3 1.4l-2.3 1.4zM309.7 190.9l2.3 1.4l-2.3 1.4zM309.7 197.2l2.3 1.4l-2.3 1.4zM309.7 203.5l2.3 1.4l-2.3 1.4zM309.7 209.8l2.3 1.4l-2.3 1.4zM309.7 216.1l2.3 1.4l-2.3 1.4zM309.7 222.4l2.3 1.4l-2.3 1.4zM309.7 228.7l2.3 1.4l-2.3 1.4zM316.0 46.0l2.3 1.4l-2.3 1.4zM316.0 52.3l2.3 1.4l-2.3 1.4zM316.0 58.6l2.3 1.4l-2.3 1.4zM316.0 64.9l2.3 1.4l-2.3 1.4zM316.0 71.2l2.3 1.4l-2.3 1.4zM316.0 77.5l2.3 1.4l-2.3 1.4zM316.0 83.8l2.3 1.4l-2.3 1.4zM316.0 90.1l2.3 1.4l-2.3 1.4zM316.0 96.4l2.3 1.4l-2.3 1.4zM316.0 102.7l2.3 1.4l-2.3 1.4zM316.0 109.0l2.3 1.4l-2.3 1.4zM316.0 115.3l2.3 1.4l-2.3 1.4zM316.0 121.6l2.3 1.4l-2.3 1.4zM316.0 127.9l2.3 1.4l-2.3 1.4zM316.0 134.2l2.3 1.4l-2.3 1.4zM316.0 140.5l2.3 1.4l-2.3 1.4zM316.0 146.8l2.3 1.4l-2.3 1.4zM316.0 153.1l2.3 1.4l-2.3 1.4zM316.0 159.4l2.3 1.4l-2.3 1.4zM316.0 165.7l2.3 1.4l-2.3 1.4zM316.0 172.0l2.3 1.4l-2.3 1.4zM316.0 178.3l2.3 1.4l-2.3 1.4zM316.0 184.6l2.3 1.4l-2.3 1.4zM316.0 190.9l2.3 1.4l-2.3 1.4zM316.0 197.2l2.3 1.4l-2.3 1.4zM316.0 203.5l2.3 1.4l-2.3 1.4zM316.0 209.8l2.3 1.4l-2.3 1.4zM316.0 216.1l2.3 1.4l-2.3 1.4zM316.0 222.4l2.3 1.4l-2.3 1.4zM316.0 228.7l2.3 1.4l-2.3 1.4zM322.3 46.0l2.3 1.4l-2.3 1.4zM322.3 52.3l2.3 1.4l-2.3 1.4zM322.3 58.6l2.3 1.4l-2.3 1.4zM322.3 64.9l2.3 1.4l-2.3 1.4zM322.3 71.2l2.3 1.4l-2.3 1.4zM322.3 77.5l2.3 1.4l-2.3 1.4zM322.3 83.8l2.3 1.4l-2.3 1.4zM322.3 90.1l2.3 1.4l-2.3 1.4zM322.3 96.4l2.3 1.4l-2.3 1.4zM322.3 102.7l2.3 1.4l-2.3 1.4zM322.3 109.0l2.3 1.4l-2.3 1.4zM322.3 115.3l2.3 1.4l-2.3 1.4zM322.3 121.6l2.3 1.4l-2.3 1.4zM322.3 127.9l2.3 1.4l-2.3 1.4zM322.3 134.2l2.3 1.4l-2.3 1.4zM322.3 140.5l2.3 1.4l-2.3 1.4zM322.3 146.8l2.3 1.4l-2.3 1.4zM322.3 153.1l2.3 1.4l-2.3 1.4zM322.3 159.4l2.3 1.4l-2.3 1.4zM322.3 165.7l2.3 1.4l-2.3 1.4zM322.3 172.0l2.3 1.4l-2.3 1.4zM322.3 178.3l2.3 1.4l-2.3 1.4zM322.3 184.6l2.3 1.4l-2.3 1.4zM322.3 190.9l2.3 1.4l-2.3 1.4zM322.3 197.2l2.3 1.4l-2.3 1.4zM322.3 203.5l2.3 1.4l-2.3 1.4zM322.3 209.8l2.3 1.4l-2.3 1.4zM322.3 216.1l2.3 1.4l-2.3 1.4zM322.3 222.4l2.3 1.4l-2.3 1.4zM322.3 228.7l2.3 1.4l-2.3 1.4zM328.6 46.0l2.3 1.4l-2.3 1.4zM328.6 52.3l2.3 1.4l-2.3 1.4zM328.6 58.6l2.3 1.4l-2.3 1.4zM328.6 64.9l2.3 1.4l-2.3 1.4zM328.6 71.2l2.3 1.4l-2.3 1.4zM328.6 77.5l2.3 1.4l-2.3 1.4zM328.6 83.8l2.3 1.4l-2.3 1.4zM328.6 90.1l2.3 1.4l-2.3 1.4zM328.6 96.4l2.3 1.4l-2.3 1.4zM328.6 102.7l2.3 1.4l-2.3 1.4zM328.6 109.0l2.3 1.4l-2.3 1.4zM328.6 115.3l2.3 1.4l-2.3 1.4zM328.6 121.6l2.3 1.4l-2.3 1.4zM328.6 127.9l2.3 1.4l-2.3 1.4zM328.6 134.2l2.3 1.4l-2.3 1.4zM328.6 140.5l2.3 1.4l-2.3 1.4zM328.6 146.8l2.3 1.4l-2.3 1.4zM328.6 153.1l2.3 1.4l-2.3 1.4zM328.6 159.4l2.3 1.4l-2.3 1.4zM328.6 165.7l2.3 1.4l-2.3 1.4zM328.6 172.0l2.3 1.4l-2.3 1.4zM328.6 178.3l2.3 1.4l-2.3 1.4zM328.6 184.6l2.3 1.4l-2.3 1.4zM328.6 190.9l2.3 1.4l-2.3 1.4zM328.6 197.2l2.3 1.4l-2.3 1.4zM328.6 203.5l2.3 1.4l-2.3 1.4zM328.6 209.8l2.3 1.4l-2.3 1.4zM328.6 216.1l2.3 1.4l-2.3 1.4zM328.6 222.4l2.3 1.4l-2.3 1.4zM328.6 228.7l2.3 1.4l-2.3 1.4zM308.8 49.1l-2.3 1.4l2.3 1.4zM308.8 55.4l-2.3 1.4l2.3 1.4zM308.8 61.7l-2.3 1.4l2.3 1.4zM308.8 68.0l-2.3 1.4l2.3 1.4zM308.8 74.3l-2.3 1.4l2.3 1.4zM308.8 80.6l-2.3 1.4l2.3 1.4zM308.8 86.9l-2.3 1.4l2.3 1.4zM308.8 93.2l-2.3 1.4l2.3 1.4zM308.8 99.5l-2.3 1.4l2.3 1.4zM308.8 105.8l-2.3 1.4l2.3 1.4zM308.8 112.1l-2.3 1.4l2.3 1.4zM308.8 118.4l-2.3 1.4l2.3 1.4zM308.8 124.7l-2.3 1.4l2.3 1.4zM308.8 131.0l-2.3 1.4l2.3 1.4zM308.8 137.3l-2.3 1.4l2.3 1.4zM308.8 143.6l-2.3 1.4l2.3 1.4zM308.8 149.9l-2.3 1.4l2.3 1.4zM308.8 156.2l-2.3 1.4l2.3 1.4zM308.8 162.5l-2.3 1.4l2.3 1.4zM308.8 168.8l-2.3 1.4l2.3 1.4zM308.8 175.1l-2.3 1.4l2.3 1.4zM308.8 181.4l-2.3 1.4l2.3 1.4zM308.8 187.7l-2.3 1.4l2.3 1.4zM308.8 194.0l-2.3 1.4l2.3 1.4zM308.8 200.3l-2.3 1.4l2.3 1.4zM308.8 206.6l-2.3 1.4l2.3 1.4zM308.8 212.9l-2.3 1.4l2.3 1.4zM308.8 219.2l-2.3 1.4l2.3 1.4zM308.8 225.5l-2.3 1.4l2.3 1.4zM308.8 231.8l-2.3 1.4l2.3 1.4zM315.1 49.1l-2.3 1.4l2.3 1.4zM315.1 55.4l-2.3 1.4l2.3 1.4zM315.1 61.7l-2.3 1.4l2.3 1.4zM315.1 68.0l-2.3 1.4l2.3 1.4zM315.1 74.3l-2.3 1.4l2.3 1.4zM315.1 80.6l-2.3 1.4l2.3 1.4zM315.1 86.9l-2.3 1.4l2.3 1.4zM315.1 93.2l-2.3 1.4l2.3 1.4zM315.1 99.5l-2.3 1.4l2.3 1.4zM315.1 105.8l-2.3 1.4l2.3 1.4zM315.1 112.1l-2.3 1.4l2.3 1.4zM315.1 118.4l-2.3 1.4l2.3 1.4zM315.1 124.7l-2.3 1.4l2.3 1.4zM315.1 131.0l-2.3 1.4l2.3 1.4zM315.1 137.3l-2.3 1.4l2.3 1.4zM315.1 143.6l-2.3 1.4l2.3 1.4zM315.1 149.9l-2.3 1.4l2.3 1.4zM315.1 156.2l-2.3 1.4l2.3 1.4zM315.1 162.5l-2.3 1.4l2.3 1.4zM315.1 168.8l-2.3 1.4l2.3 1.4zM315.1 175.1l-2.3 1.4l2.3 1.4zM315.1 181.4l-2.3 1.4l2.3 1.4zM315.1 187.7l-2.3 1.4l2.3 1.4zM315.1 194.0l-2.3 1.4l2.3 1.4zM315.1 200.3l-2.3 1.4l2.3 1.4zM315.1 206.6l-2.3 1.4l2.3 1.4zM315.1 212.9l-2.3 1.4l2.3 1.4zM315.1 219.2l-2.3 1.4l2.3 1.4zM315.1 225.5l-2.3 1.4l2.3 1.4zM315.1 231.8l-2.3 1.4l2.3 1.4zM321.3 49.1l-2.3 1.4l2.3 1.4zM321.3 55.4l-2.3 1.4l2.3 1.4zM321.3 61.7l-2.3 1.4l2.3 1.4zM321.3 68.0l-2.3 1.4l2.3 1.4zM321.3 74.3l-2.3 1.4l2.3 1.4zM321.3 80.6l-2.3 1.4l2.3 1.4zM321.3 86.9l-2.3 1.4l2.3 1.4zM321.3 93.2l-2.3 1.4l2.3 1.4zM321.3 99.5l-2.3 1.4l2.3 1.4zM321.3 105.8l-2.3 1.4l2.3 1.4zM321.3 112.1l-2.3 1.4l2.3 1.4zM321.3 118.4l-2.3 1.4l2.3 1.4zM321.3 124.7l-2.3 1.4l2.3 1.4zM321.3 131.0l-2.3 1.4l2.3 1.4zM321.3 137.3l-2.3 1.4l2.3 1.4zM321.3 143.6l-2.3 1.4l2.3 1.4zM321.3 149.9l-2.3 1.4l2.3 1.4zM321.3 156.2l-2.3 1.4l2.3 1.4zM321.3 162.5l-2.3 1.4l2.3 1.4zM321.3 168.8l-2.3 1.4l2.3 1.4zM321.3 175.1l-2.3 1.4l2.3 1.4zM321.3 181.4l-2.3 1.4l2.3 1.4zM321.3 187.7l-2.3 1.4l2.3 1.4zM321.3 194.0l-2.3 1.4l2.3 1.4zM321.3 200.3l-2.3 1.4l2.3 1.4zM321.3 206.6l-2.3 1.4l2.3 1.4zM321.3 212.9l-2.3 1.4l2.3 1.4zM321.3 219.2l-2.3 1.4l2.3 1.4zM321.3 225.5l-2.3 1.4l2.3 1.4zM321.3 231.8l-2.3 1.4l2.3 1.4zM327.6 49.1l-2.3 1.4l2.3 1.4zM327.6 55.4l-2.3 1.4l2.3 1.4zM327.6 61.7l-2.3 1.4l2.3 1.4zM327.6 68.0l-2.3 1.4l2.3 1.4zM327.6 74.3l-2.3 1.4l2.3 1.4zM327.6 80.6l-2.3 1.4l2.3 1.4zM327.6 86.9l-2.3 1.4l2.3 1.4zM327.6 93.2l-2.3 1.4l2.3 1.4zM327.6 99.5l-2.3 1.4l2.3 1.4zM327.6 105.8l-2.3 1.4l2.3 1.4zM327.6 112.1l-2.3 1.4l2.3 1.4zM327.6 118.4l-2.3 1.4l2.3 1.4zM327.6 124.7l-2.3 1.4l2.3 1.4zM327.6 131.0l-2.3 1.4l2.3 1.4zM327.6 137.3l-2.3 1.4l2.3 1.4zM327.6 143.6l-2.3 1.4l2.3 1.4zM327.6 149.9l-2.3 1.4l2.3 1.4zM327.6 156.2l-2.3 1.4l2.3 1.4zM327.6 162.5l-2.3 1.4l2.3 1.4zM327.6 168.8l-2.3 1.4l2.3 1.4zM327.6 175.1l-2.3 1.4l2.3 1.4zM327.6 181.4l-2.3 1.4l2.3 1.4zM327.6 187.7l-2.3 1.4l2.3 1.4zM327.6 194.0l-2.3 1.4l2.3 1.4zM327.6 200.3l-2.3 1.4l2.3 1.4zM327.6 206.6l-2.3 1.4l2.3 1.4zM327.6 212.9l-2.3 1.4l2.3 1.4zM327.6 219.2l-2.3 1.4l2.3 1.4zM327.6 225.5l-2.3 1.4l2.3 1.4zM327.6 231.8l-2.3 1.4l2.3 1.4z" fill="#5a5a5a"/>
<rect x="308.9" y="39.34" width="20.1" height="7.15" fill="#3b3a3a"/>
<clipPath id="c8h"><rect x="308.9" y="28.19" width="20.1" height="11.15"/></clipPath>
<rect x="308.9" y="28.19" width="20.1" height="11.15" fill="#fff"/>
<path clip-path="url(#c8h)" d="M306.90 25.30L331.00 1.20M306.90 29.88L331.00 5.78M306.90 34.46L331.00 10.36M306.90 39.04L331.00 14.94M306.90 43.62L331.00 19.52M306.90 48.20L331.00 24.10M306.90 52.78L331.00 28.68M306.90 57.36L331.00 33.26M306.90 61.94L331.00 37.84M306.90 66.52L331.00 42.42" stroke="#111" stroke-width="1.45" fill="none"/>
<rect x="308.9" y="22.30" width="20.1" height="5.89" fill="#cccaca"/>
<path d="M308.9 46.50h20.1M308.9 39.34h20.1M308.9 28.19h20.1" stroke="#6a6a6a" stroke-width="0.8" fill="none"/>
<rect x="308.9" y="22.30" width="20.1" height="210.40" fill="none" stroke="#2a2a2a" stroke-width="1"/>
<rect x="337.4" y="187.88" width="20.1" height="44.82" fill="#3b3a3a"/>
<clipPath id="c9h"><rect x="337.4" y="146.23" width="20.1" height="41.66"/></clipPath>
<rect x="337.4" y="146.23" width="20.1" height="41.66" fill="#fff"/>
<path clip-path="url(#c9h)" d="M335.40 143.36L359.50 119.26M335.40 147.94L359.50 123.84M335.40 152.52L359.50 128.42M335.40 157.10L359.50 133.00M335.40 161.68L359.50 137.58M335.40 166.26L359.50 142.16M335.40 170.84L359.50 146.74M335.40 175.42L359.50 151.32M335.40 180.00L359.50 155.90M335.40 184.58L359.50 160.48M335.40 189.16L359.50 165.06M335.40 193.74L359.50 169.64M335.40 198.32L359.50 174.22M335.40 202.90L359.50 178.80M335.40 207.48L359.50 183.38M335.40 212.06L359.50 187.96M335.40 216.64L359.50 192.54" stroke="#111" stroke-width="1.45" fill="none"/>
<rect x="337.4" y="22.30" width="20.1" height="123.93" fill="#cccaca"/>
<path d="M337.4 187.88h20.1M337.4 146.23h20.1" stroke="#6a6a6a" stroke-width="0.8" fill="none"/>
<rect x="337.4" y="22.30" width="20.1" height="210.40" fill="none" stroke="#2a2a2a" stroke-width="1"/>
<clipPath id="c10d"><rect x="394.4" y="114.46" width="19.6" height="118.24"/></clipPath>
<rect x="394.4" y="114.46" width="19.6" height="118.24" fill="#fff"/>
<path clip-path="url(#c10d)" d="M397.9 115.3l2.3 1.4l-2.3 1.4zM397.9 121.6l2.3 1.4l-2.3 1.4zM397.9 127.9l2.3 1.4l-2.3 1.4zM397.9 134.2l2.3 1.4l-2.3 1.4zM397.9 140.5l2.3 1.4l-2.3 1.4zM397.9 146.8l2.3 1.4l-2.3 1.4zM397.9 153.1l2.3 1.4l-2.3 1.4zM397.9 159.4l2.3 1.4l-2.3 1.4zM397.9 165.7l2.3 1.4l-2.3 1.4zM397.9 172.0l2.3 1.4l-2.3 1.4zM397.9 178.3l2.3 1.4l-2.3 1.4zM397.9 184.6l2.3 1.4l-2.3 1.4zM397.9 190.9l2.3 1.4l-2.3 1.4zM397.9 197.2l2.3 1.4l-2.3 1.4zM397.9 203.5l2.3 1.4l-2.3 1.4zM397.9 209.8l2.3 1.4l-2.3 1.4zM397.9 216.1l2.3 1.4l-2.3 1.4zM397.9 222.4l2.3 1.4l-2.3 1.4zM397.9 228.7l2.3 1.4l-2.3 1.4zM404.2 115.3l2.3 1.4l-2.3 1.4zM404.2 121.6l2.3 1.4l-2.3 1.4zM404.2 127.9l2.3 1.4l-2.3 1.4zM404.2 134.2l2.3 1.4l-2.3 1.4zM404.2 140.5l2.3 1.4l-2.3 1.4zM404.2 146.8l2.3 1.4l-2.3 1.4zM404.2 153.1l2.3 1.4l-2.3 1.4zM404.2 159.4l2.3 1.4l-2.3 1.4zM404.2 165.7l2.3 1.4l-2.3 1.4zM404.2 172.0l2.3 1.4l-2.3 1.4zM404.2 178.3l2.3 1.4l-2.3 1.4zM404.2 184.6l2.3 1.4l-2.3 1.4zM404.2 190.9l2.3 1.4l-2.3 1.4zM404.2 197.2l2.3 1.4l-2.3 1.4zM404.2 203.5l2.3 1.4l-2.3 1.4zM404.2 209.8l2.3 1.4l-2.3 1.4zM404.2 216.1l2.3 1.4l-2.3 1.4zM404.2 222.4l2.3 1.4l-2.3 1.4zM404.2 228.7l2.3 1.4l-2.3 1.4zM410.5 115.3l2.3 1.4l-2.3 1.4zM410.5 121.6l2.3 1.4l-2.3 1.4zM410.5 127.9l2.3 1.4l-2.3 1.4zM410.5 134.2l2.3 1.4l-2.3 1.4zM410.5 140.5l2.3 1.4l-2.3 1.4zM410.5 146.8l2.3 1.4l-2.3 1.4zM410.5 153.1l2.3 1.4l-2.3 1.4zM410.5 159.4l2.3 1.4l-2.3 1.4zM410.5 165.7l2.3 1.4l-2.3 1.4zM410.5 172.0l2.3 1.4l-2.3 1.4zM410.5 178.3l2.3 1.4l-2.3 1.4zM410.5 184.6l2.3 1.4l-2.3 1.4zM410.5 190.9l2.3 1.4l-2.3 1.4zM410.5 197.2l2.3 1.4l-2.3 1.4zM410.5 203.5l2.3 1.4l-2.3 1.4zM410.5 209.8l2.3 1.4l-2.3 1.4zM410.5 216.1l2.3 1.4l-2.3 1.4zM410.5 222.4l2.3 1.4l-2.3 1.4zM410.5 228.7l2.3 1.4l-2.3 1.4zM396.9 112.1l-2.3 1.4l2.3 1.4zM396.9 118.4l-2.3 1.4l2.3 1.4zM396.9 124.7l-2.3 1.4l2.3 1.4zM396.9 131.0l-2.3 1.4l2.3 1.4zM396.9 137.3l-2.3 1.4l2.3 1.4zM396.9 143.6l-2.3 1.4l2.3 1.4zM396.9 149.9l-2.3 1.4l2.3 1.4zM396.9 156.2l-2.3 1.4l2.3 1.4zM396.9 162.5l-2.3 1.4l2.3 1.4zM396.9 168.8l-2.3 1.4l2.3 1.4zM396.9 175.1l-2.3 1.4l2.3 1.4zM396.9 181.4l-2.3 1.4l2.3 1.4zM396.9 187.7l-2.3 1.4l2.3 1.4zM396.9 194.0l-2.3 1.4l2.3 1.4zM396.9 200.3l-2.3 1.4l2.3 1.4zM396.9 206.6l-2.3 1.4l2.3 1.4zM396.9 212.9l-2.3 1.4l2.3 1.4zM396.9 219.2l-2.3 1.4l2.3 1.4zM396.9 225.5l-2.3 1.4l2.3 1.4zM396.9 231.8l-2.3 1.4l2.3 1.4zM403.2 112.1l-2.3 1.4l2.3 1.4zM403.2 118.4l-2.3 1.4l2.3 1.4zM403.2 124.7l-2.3 1.4l2.3 1.4zM403.2 131.0l-2.3 1.4l2.3 1.4zM403.2 137.3l-2.3 1.4l2.3 1.4zM403.2 143.6l-2.3 1.4l2.3 1.4zM403.2 149.9l-2.3 1.4l2.3 1.4zM403.2 156.2l-2.3 1.4l2.3 1.4zM403.2 162.5l-2.3 1.4l2.3 1.4zM403.2 168.8l-2.3 1.4l2.3 1.4zM403.2 175.1l-2.3 1.4l2.3 1.4zM403.2 181.4l-2.3 1.4l2.3 1.4zM403.2 187.7l-2.3 1.4l2.3 1.4zM403.2 194.0l-2.3 1.4l2.3 1.4zM403.2 200.3l-2.3 1.4l2.3 1.4zM403.2 206.6l-2.3 1.4l2.3 1.4zM403.2 212.9l-2.3 1.4l2.3 1.4zM403.2 219.2l-2.3 1.4l2.3 1.4zM403.2 225.5l-2.3 1.4l2.3 1.4zM403.2 231.8l-2.3 1.4l2.3 1.4zM409.6 112.1l-2.3 1.4l2.3 1.4zM409.6 118.4l-2.3 1.4l2.3 1.4zM409.6 124.7l-2.3 1.4l2.3 1.4zM409.6 131.0l-2.3 1.4l2.3 1.4zM409.6 137.3l-2.3 1.4l2.3 1.4zM409.6 143.6l-2.3 1.4l2.3 1.4zM409.6 149.9l-2.3 1.4l2.3 1.4zM409.6 156.2l-2.3 1.4l2.3 1.4zM409.6 162.5l-2.3 1.4l2.3 1.4zM409.6 168.8l-2.3 1.4l2.3 1.4zM409.6 175.1l-2.3 1.4l2.3 1.4zM409.6 181.4l-2.3 1.4l2.3 1.4zM409.6 187.7l-2.3 1.4l2.3 1.4zM409.6 194.0l-2.3 1.4l2.3 1.4zM409.6 200.3l-2.3 1.4l2.3 1.4zM409.6 206.6l-2.3 1.4l2.3 1.4zM409.6 212.9l-2.3 1.4l2.3 1.4zM409.6 219.2l-2.3 1.4l2.3 1.4zM409.6 225.5l-2.3 1.4l2.3 1.4zM409.6 231.8l-2.3 1.4l2.3 1.4zM415.8 112.1l-2.3 1.4l2.3 1.4zM415.8 118.4l-2.3 1.4l2.3 1.4zM415.8 124.7l-2.3 1.4l2.3 1.4zM415.8 131.0l-2.3 1.4l2.3 1.4zM415.8 137.3l-2.3 1.4l2.3 1.4zM415.8 143.6l-2.3 1.4l2.3 1.4zM415.8 149.9l-2.3 1.4l2.3 1.4zM415.8 156.2l-2.3 1.4l2.3 1.4zM415.8 162.5l-2.3 1.4l2.3 1.4zM415.8 168.8l-2.3 1.4l2.3 1.4zM415.8 175.1l-2.3 1.4l2.3 1.4zM415.8 181.4l-2.3 1.4l2.3 1.4zM415.8 187.7l-2.3 1.4l2.3 1.4zM415.8 194.0l-2.3 1.4l2.3 1.4zM415.8 200.3l-2.3 1.4l2.3 1.4zM415.8 206.6l-2.3 1.4l2.3 1.4zM415.8 212.9l-2.3 1.4l2.3 1.4zM415.8 219.2l-2.3 1.4l2.3 1.4zM415.8 225.5l-2.3 1.4l2.3 1.4zM415.8 231.8l-2.3 1.4l2.3 1.4z" fill="#5a5a5a"/>
<rect x="394.4" y="100.78" width="19.6" height="13.68" fill="#3b3a3a"/>
<clipPath id="c10h"><rect x="394.4" y="62.07" width="19.6" height="38.71"/></clipPath>
<rect x="394.4" y="62.07" width="19.6" height="38.71" fill="#fff"/>
<path clip-path="url(#c10h)" d="M392.40 58.88L416.00 35.28M392.40 63.46L416.00 39.86M392.40 68.04L416.00 44.44M392.40 72.62L416.00 49.02M392.40 77.20L416.00 53.60M392.40 81.78L416.00 58.18M392.40 86.36L416.00 62.76M392.40 90.94L416.00 67.34M392.40 95.52L416.00 71.92M392.40 100.10L416.00 76.50M392.40 104.68L416.00 81.08M392.40 109.26L416.00 85.66M392.40 113.84L416.00 90.24M392.40 118.42L416.00 94.82M392.40 123.00L416.00 99.40M392.40 127.58L416.00 103.98" stroke="#111" stroke-width="1.45" fill="none"/>
<rect x="394.4" y="22.30" width="19.6" height="39.77" fill="#cccaca"/>
<path d="M394.4 114.46h19.6M394.4 100.78h19.6M394.4 62.07h19.6" stroke="#6a6a6a" stroke-width="0.8" fill="none"/>
<rect x="394.4" y="22.30" width="19.6" height="210.40" fill="none" stroke="#2a2a2a" stroke-width="1"/>
<clipPath id="c11d"><rect x="422.5" y="105.20" width="20.1" height="127.50"/></clipPath>
<rect x="422.5" y="105.20" width="20.1" height="127.50" fill="#fff"/>
<path clip-path="url(#c11d)" d="M423.1 102.7l2.3 1.4l-2.3 1.4zM423.1 109.0l2.3 1.4l-2.3 1.4zM423.1 115.3l2.3 1.4l-2.3 1.4zM423.1 121.6l2.3 1.4l-2.3 1.4zM423.1 127.9l2.3 1.4l-2.3 1.4zM423.1 134.2l2.3 1.4l-2.3 1.4zM423.1 140.5l2.3 1.4l-2.3 1.4zM423.1 146.8l2.3 1.4l-2.3 1.4zM423.1 153.1l2.3 1.4l-2.3 1.4zM423.1 159.4l2.3 1.4l-2.3 1.4zM423.1 165.7l2.3 1.4l-2.3 1.4zM423.1 172.0l2.3 1.4l-2.3 1.4zM423.1 178.3l2.3 1.4l-2.3 1.4zM423.1 184.6l2.3 1.4l-2.3 1.4zM423.1 190.9l2.3 1.4l-2.3 1.4zM423.1 197.2l2.3 1.4l-2.3 1.4zM423.1 203.5l2.3 1.4l-2.3 1.4zM423.1 209.8l2.3 1.4l-2.3 1.4zM423.1 216.1l2.3 1.4l-2.3 1.4zM423.1 222.4l2.3 1.4l-2.3 1.4zM423.1 228.7l2.3 1.4l-2.3 1.4zM429.4 102.7l2.3 1.4l-2.3 1.4zM429.4 109.0l2.3 1.4l-2.3 1.4zM429.4 115.3l2.3 1.4l-2.3 1.4zM429.4 121.6l2.3 1.4l-2.3 1.4zM429.4 127.9l2.3 1.4l-2.3 1.4zM429.4 134.2l2.3 1.4l-2.3 1.4zM429.4 140.5l2.3 1.4l-2.3 1.4zM429.4 146.8l2.3 1.4l-2.3 1.4zM429.4 153.1l2.3 1.4l-2.3 1.4zM429.4 159.4l2.3 1.4l-2.3 1.4zM429.4 165.7l2.3 1.4l-2.3 1.4zM429.4 172.0l2.3 1.4l-2.3 1.4zM429.4 178.3l2.3 1.4l-2.3 1.4zM429.4 184.6l2.3 1.4l-2.3 1.4zM429.4 190.9l2.3 1.4l-2.3 1.4zM429.4 197.2l2.3 1.4l-2.3 1.4zM429.4 203.5l2.3 1.4l-2.3 1.4zM429.4 209.8l2.3 1.4l-2.3 1.4zM429.4 216.1l2.3 1.4l-2.3 1.4zM429.4 222.4l2.3 1.4l-2.3 1.4zM429.4 228.7l2.3 1.4l-2.3 1.4zM435.7 102.7l2.3 1.4l-2.3 1.4zM435.7 109.0l2.3 1.4l-2.3 1.4zM435.7 115.3l2.3 1.4l-2.3 1.4zM435.7 121.6l2.3 1.4l-2.3 1.4zM435.7 127.9l2.3 1.4l-2.3 1.4zM435.7 134.2l2.3 1.4l-2.3 1.4zM435.7 140.5l2.3 1.4l-2.3 1.4zM435.7 146.8l2.3 1.4l-2.3 1.4zM435.7 153.1l2.3 1.4l-2.3 1.4zM435.7 159.4l2.3 1.4l-2.3 1.4zM435.7 165.7l2.3 1.4l-2.3 1.4zM435.7 172.0l2.3 1.4l-2.3 1.4zM435.7 178.3l2.3 1.4l-2.3 1.4zM435.7 184.6l2.3 1.4l-2.3 1.4zM435.7 190.9l2.3 1.4l-2.3 1.4zM435.7 197.2l2.3 1.4l-2.3 1.4zM435.7 203.5l2.3 1.4l-2.3 1.4zM435.7 209.8l2.3 1.4l-2.3 1.4zM435.7 216.1l2.3 1.4l-2.3 1.4zM435.7 222.4l2.3 1.4l-2.3 1.4zM435.7 228.7l2.3 1.4l-2.3 1.4zM442.0 102.7l2.3 1.4l-2.3 1.4zM442.0 109.0l2.3 1.4l-2.3 1.4zM442.0 115.3l2.3 1.4l-2.3 1.4zM442.0 121.6l2.3 1.4l-2.3 1.4zM442.0 127.9l2.3 1.4l-2.3 1.4zM442.0 134.2l2.3 1.4l-2.3 1.4zM442.0 140.5l2.3 1.4l-2.3 1.4zM442.0 146.8l2.3 1.4l-2.3 1.4zM442.0 153.1l2.3 1.4l-2.3 1.4zM442.0 159.4l2.3 1.4l-2.3 1.4zM442.0 165.7l2.3 1.4l-2.3 1.4zM442.0 172.0l2.3 1.4l-2.3 1.4zM442.0 178.3l2.3 1.4l-2.3 1.4zM442.0 184.6l2.3 1.4l-2.3 1.4zM442.0 190.9l2.3 1.4l-2.3 1.4zM442.0 197.2l2.3 1.4l-2.3 1.4zM442.0 203.5l2.3 1.4l-2.3 1.4zM442.0 209.8l2.3 1.4l-2.3 1.4zM442.0 216.1l2.3 1.4l-2.3 1.4zM442.0 222.4l2.3 1.4l-2.3 1.4zM442.0 228.7l2.3 1.4l-2.3 1.4zM422.1 105.8l-2.3 1.4l2.3 1.4zM422.1 112.1l-2.3 1.4l2.3 1.4zM422.1 118.4l-2.3 1.4l2.3 1.4zM422.1 124.7l-2.3 1.4l2.3 1.4zM422.1 131.0l-2.3 1.4l2.3 1.4zM422.1 137.3l-2.3 1.4l2.3 1.4zM422.1 143.6l-2.3 1.4l2.3 1.4zM422.1 149.9l-2.3 1.4l2.3 1.4zM422.1 156.2l-2.3 1.4l2.3 1.4zM422.1 162.5l-2.3 1.4l2.3 1.4zM422.1 168.8l-2.3 1.4l2.3 1.4zM422.1 175.1l-2.3 1.4l2.3 1.4zM422.1 181.4l-2.3 1.4l2.3 1.4zM422.1 187.7l-2.3 1.4l2.3 1.4zM422.1 194.0l-2.3 1.4l2.3 1.4zM422.1 200.3l-2.3 1.4l2.3 1.4zM422.1 206.6l-2.3 1.4l2.3 1.4zM422.1 212.9l-2.3 1.4l2.3 1.4zM422.1 219.2l-2.3 1.4l2.3 1.4zM422.1 225.5l-2.3 1.4l2.3 1.4zM422.1 231.8l-2.3 1.4l2.3 1.4zM428.4 105.8l-2.3 1.4l2.3 1.4zM428.4 112.1l-2.3 1.4l2.3 1.4zM428.4 118.4l-2.3 1.4l2.3 1.4zM428.4 124.7l-2.3 1.4l2.3 1.4zM428.4 131.0l-2.3 1.4l2.3 1.4zM428.4 137.3l-2.3 1.4l2.3 1.4zM428.4 143.6l-2.3 1.4l2.3 1.4zM428.4 149.9l-2.3 1.4l2.3 1.4zM428.4 156.2l-2.3 1.4l2.3 1.4zM428.4 162.5l-2.3 1.4l2.3 1.4zM428.4 168.8l-2.3 1.4l2.3 1.4zM428.4 175.1l-2.3 1.4l2.3 1.4zM428.4 181.4l-2.3 1.4l2.3 1.4zM428.4 187.7l-2.3 1.4l2.3 1.4zM428.4 194.0l-2.3 1.4l2.3 1.4zM428.4 200.3l-2.3 1.4l2.3 1.4zM428.4 206.6l-2.3 1.4l2.3 1.4zM428.4 212.9l-2.3 1.4l2.3 1.4zM428.4 219.2l-2.3 1.4l2.3 1.4zM428.4 225.5l-2.3 1.4l2.3 1.4zM428.4 231.8l-2.3 1.4l2.3 1.4zM434.8 105.8l-2.3 1.4l2.3 1.4zM434.8 112.1l-2.3 1.4l2.3 1.4zM434.8 118.4l-2.3 1.4l2.3 1.4zM434.8 124.7l-2.3 1.4l2.3 1.4zM434.8 131.0l-2.3 1.4l2.3 1.4zM434.8 137.3l-2.3 1.4l2.3 1.4zM434.8 143.6l-2.3 1.4l2.3 1.4zM434.8 149.9l-2.3 1.4l2.3 1.4zM434.8 156.2l-2.3 1.4l2.3 1.4zM434.8 162.5l-2.3 1.4l2.3 1.4zM434.8 168.8l-2.3 1.4l2.3 1.4zM434.8 175.1l-2.3 1.4l2.3 1.4zM434.8 181.4l-2.3 1.4l2.3 1.4zM434.8 187.7l-2.3 1.4l2.3 1.4zM434.8 194.0l-2.3 1.4l2.3 1.4zM434.8 200.3l-2.3 1.4l2.3 1.4zM434.8 206.6l-2.3 1.4l2.3 1.4zM434.8 212.9l-2.3 1.4l2.3 1.4zM434.8 219.2l-2.3 1.4l2.3 1.4zM434.8 225.5l-2.3 1.4l2.3 1.4zM434.8 231.8l-2.3 1.4l2.3 1.4zM441.1 105.8l-2.3 1.4l2.3 1.4zM441.1 112.1l-2.3 1.4l2.3 1.4zM441.1 118.4l-2.3 1.4l2.3 1.4zM441.1 124.7l-2.3 1.4l2.3 1.4zM441.1 131.0l-2.3 1.4l2.3 1.4zM441.1 137.3l-2.3 1.4l2.3 1.4zM441.1 143.6l-2.3 1.4l2.3 1.4zM441.1 149.9l-2.3 1.4l2.3 1.4zM441.1 156.2l-2.3 1.4l2.3 1.4zM441.1 162.5l-2.3 1.4l2.3 1.4zM441.1 168.8l-2.3 1.4l2.3 1.4zM441.1 175.1l-2.3 1.4l2.3 1.4zM441.1 181.4l-2.3 1.4l2.3 1.4zM441.1 187.7l-2.3 1.4l2.3 1.4zM441.1 194.0l-2.3 1.4l2.3 1.4zM441.1 200.3l-2.3 1.4l2.3 1.4zM441.1 206.6l-2.3 1.4l2.3 1.4zM441.1 212.9l-2.3 1.4l2.3 1.4zM441.1 219.2l-2.3 1.4l2.3 1.4zM441.1 225.5l-2.3 1.4l2.3 1.4zM441.1 231.8l-2.3 1.4l2.3 1.4z" fill="#5a5a5a"/>
<rect x="422.5" y="86.89" width="20.1" height="18.30" fill="#3b3a3a"/>
<clipPath id="c11h"><rect x="422.5" y="59.12" width="20.1" height="27.77"/></clipPath>
<rect x="422.5" y="59.12" width="20.1" height="27.77" fill="#fff"/>
<path clip-path="url(#c11h)" d="M420.50 53.68L444.60 29.58M420.50 58.26L444.60 34.16M420.50 62.84L444.60 38.74M420.50 67.42L444.60 43.32M420.50 72.00L444.60 47.90M420.50 76.58L444.60 52.48M420.50 81.16L444.60 57.06M420.50 85.74L444.60 61.64M420.50 90.32L444.60 66.22M420.50 94.90L444.60 70.80M420.50 99.48L444.60 75.38M420.50 104.06L444.60 79.96M420.50 108.64L444.60 84.54M420.50 113.22L444.60 89.12M420.50 117.80L444.60 93.70" stroke="#111" stroke-width="1.45" fill="none"/>
<rect x="422.5" y="22.30" width="20.1" height="36.82" fill="#cccaca"/>
<path d="M422.5 105.20h20.1M422.5 86.89h20.1M422.5 59.12h20.1" stroke="#6a6a6a" stroke-width="0.8" fill="none"/>
<rect x="422.5" y="22.30" width="20.1" height="210.40" fill="none" stroke="#2a2a2a" stroke-width="1"/>
<clipPath id="c12d"><rect x="451.0" y="133.60" width="20.0" height="99.10"/></clipPath>
<rect x="451.0" y="133.60" width="20.0" height="99.10" fill="#fff"/>
<path clip-path="url(#c12d)" d="M454.6 134.2l2.3 1.4l-2.3 1.4zM454.6 140.5l2.3 1.4l-2.3 1.4zM454.6 146.8l2.3 1.4l-2.3 1.4zM454.6 153.1l2.3 1.4l-2.3 1.4zM454.6 159.4l2.3 1.4l-2.3 1.4zM454.6 165.7l2.3 1.4l-2.3 1.4zM454.6 172.0l2.3 1.4l-2.3 1.4zM454.6 178.3l2.3 1.4l-2.3 1.4zM454.6 184.6l2.3 1.4l-2.3 1.4zM454.6 190.9l2.3 1.4l-2.3 1.4zM454.6 197.2l2.3 1.4l-2.3 1.4zM454.6 203.5l2.3 1.4l-2.3 1.4zM454.6 209.8l2.3 1.4l-2.3 1.4zM454.6 216.1l2.3 1.4l-2.3 1.4zM454.6 222.4l2.3 1.4l-2.3 1.4zM454.6 228.7l2.3 1.4l-2.3 1.4zM460.9 134.2l2.3 1.4l-2.3 1.4zM460.9 140.5l2.3 1.4l-2.3 1.4zM460.9 146.8l2.3 1.4l-2.3 1.4zM460.9 153.1l2.3 1.4l-2.3 1.4zM460.9 159.4l2.3 1.4l-2.3 1.4zM460.9 165.7l2.3 1.4l-2.3 1.4zM460.9 172.0l2.3 1.4l-2.3 1.4zM460.9 178.3l2.3 1.4l-2.3 1.4zM460.9 184.6l2.3 1.4l-2.3 1.4zM460.9 190.9l2.3 1.4l-2.3 1.4zM460.9 197.2l2.3 1.4l-2.3 1.4zM460.9 203.5l2.3 1.4l-2.3 1.4zM460.9 209.8l2.3 1.4l-2.3 1.4zM460.9 216.1l2.3 1.4l-2.3 1.4zM460.9 222.4l2.3 1.4l-2.3 1.4zM460.9 228.7l2.3 1.4l-2.3 1.4zM467.2 134.2l2.3 1.4l-2.3 1.4zM467.2 140.5l2.3 1.4l-2.3 1.4zM467.2 146.8l2.3 1.4l-2.3 1.4zM467.2 153.1l2.3 1.4l-2.3 1.4zM467.2 159.4l2.3 1.4l-2.3 1.4zM467.2 165.7l2.3 1.4l-2.3 1.4zM467.2 172.0l2.3 1.4l-2.3 1.4zM467.2 178.3l2.3 1.4l-2.3 1.4zM467.2 184.6l2.3 1.4l-2.3 1.4zM467.2 190.9l2.3 1.4l-2.3 1.4zM467.2 197.2l2.3 1.4l-2.3 1.4zM467.2 203.5l2.3 1.4l-2.3 1.4zM467.2 209.8l2.3 1.4l-2.3 1.4zM467.2 216.1l2.3 1.4l-2.3 1.4zM467.2 222.4l2.3 1.4l-2.3 1.4zM467.2 228.7l2.3 1.4l-2.3 1.4zM453.6 131.0l-2.3 1.4l2.3 1.4zM453.6 137.3l-2.3 1.4l2.3 1.4zM453.6 143.6l-2.3 1.4l2.3 1.4zM453.6 149.9l-2.3 1.4l2.3 1.4zM453.6 156.2l-2.3 1.4l2.3 1.4zM453.6 162.5l-2.3 1.4l2.3 1.4zM453.6 168.8l-2.3 1.4l2.3 1.4zM453.6 175.1l-2.3 1.4l2.3 1.4zM453.6 181.4l-2.3 1.4l2.3 1.4zM453.6 187.7l-2.3 1.4l2.3 1.4zM453.6 194.0l-2.3 1.4l2.3 1.4zM453.6 200.3l-2.3 1.4l2.3 1.4zM453.6 206.6l-2.3 1.4l2.3 1.4zM453.6 212.9l-2.3 1.4l2.3 1.4zM453.6 219.2l-2.3 1.4l2.3 1.4zM453.6 225.5l-2.3 1.4l2.3 1.4zM453.6 231.8l-2.3 1.4l2.3 1.4zM459.9 131.0l-2.3 1.4l2.3 1.4zM459.9 137.3l-2.3 1.4l2.3 1.4zM459.9 143.6l-2.3 1.4l2.3 1.4zM459.9 149.9l-2.3 1.4l2.3 1.4zM459.9 156.2l-2.3 1.4l2.3 1.4zM459.9 162.5l-2.3 1.4l2.3 1.4zM459.9 168.8l-2.3 1.4l2.3 1.4zM459.9 175.1l-2.3 1.4l2.3 1.4zM459.9 181.4l-2.3 1.4l2.3 1.4zM459.9 187.7l-2.3 1.4l2.3 1.4zM459.9 194.0l-2.3 1.4l2.3 1.4zM459.9 200.3l-2.3 1.4l2.3 1.4zM459.9 206.6l-2.3 1.4l2.3 1.4zM459.9 212.9l-2.3 1.4l2.3 1.4zM459.9 219.2l-2.3 1.4l2.3 1.4zM459.9 225.5l-2.3 1.4l2.3 1.4zM459.9 231.8l-2.3 1.4l2.3 1.4zM466.2 131.0l-2.3 1.4l2.3 1.4zM466.2 137.3l-2.3 1.4l2.3 1.4zM466.2 143.6l-2.3 1.4l2.3 1.4zM466.2 149.9l-2.3 1.4l2.3 1.4zM466.2 156.2l-2.3 1.4l2.3 1.4zM466.2 162.5l-2.3 1.4l2.3 1.4zM466.2 168.8l-2.3 1.4l2.3 1.4zM466.2 175.1l-2.3 1.4l2.3 1.4zM466.2 181.4l-2.3 1.4l2.3 1.4zM466.2 187.7l-2.3 1.4l2.3 1.4zM466.2 194.0l-2.3 1.4l2.3 1.4zM466.2 200.3l-2.3 1.4l2.3 1.4zM466.2 206.6l-2.3 1.4l2.3 1.4zM466.2 212.9l-2.3 1.4l2.3 1.4zM466.2 219.2l-2.3 1.4l2.3 1.4zM466.2 225.5l-2.3 1.4l2.3 1.4zM466.2 231.8l-2.3 1.4l2.3 1.4zM472.6 131.0l-2.3 1.4l2.3 1.4zM472.6 137.3l-2.3 1.4l2.3 1.4zM472.6 143.6l-2.3 1.4l2.3 1.4zM472.6 149.9l-2.3 1.4l2.3 1.4zM472.6 156.2l-2.3 1.4l2.3 1.4zM472.6 162.5l-2.3 1.4l2.3 1.4zM472.6 168.8l-2.3 1.4l2.3 1.4zM472.6 175.1l-2.3 1.4l2.3 1.4zM472.6 181.4l-2.3 1.4l2.3 1.4zM472.6 187.7l-2.3 1.4l2.3 1.4zM472.6 194.0l-2.3 1.4l2.3 1.4zM472.6 200.3l-2.3 1.4l2.3 1.4zM472.6 206.6l-2.3 1.4l2.3 1.4zM472.6 212.9l-2.3 1.4l2.3 1.4zM472.6 219.2l-2.3 1.4l2.3 1.4zM472.6 225.5l-2.3 1.4l2.3 1.4zM472.6 231.8l-2.3 1.4l2.3 1.4z" fill="#5a5a5a"/>
<rect x="451.0" y="91.10" width="20.0" height="42.50" fill="#3b3a3a"/>
<clipPath id="c12h"><rect x="451.0" y="69.22" width="20.0" height="21.88"/></clipPath>
<rect x="451.0" y="69.22" width="20.0" height="21.88" fill="#fff"/>
<path clip-path="url(#c12h)" d="M449.00 66.40L473.00 42.40M449.00 70.98L473.00 46.98M449.00 75.56L473.00 51.56M449.00 80.14L473.00 56.14M449.00 84.72L473.00 60.72M449.00 89.30L473.00 65.30M449.00 93.88L473.00 69.88M449.00 98.46L473.00 74.46M449.00 103.04L473.00 79.04M449.00 107.62L473.00 83.62M449.00 112.20L473.00 88.20M449.00 116.78L473.00 92.78M449.00 121.36L473.00 97.36" stroke="#111" stroke-width="1.45" fill="none"/>
<rect x="451.0" y="22.30" width="20.0" height="46.92" fill="#cccaca"/>
<path d="M451.0 133.60h20.0M451.0 91.10h20.0M451.0 69.22h20.0" stroke="#6a6a6a" stroke-width="0.8" fill="none"/>
<rect x="451.0" y="22.30" width="20.0" height="210.40" fill="none" stroke="#2a2a2a" stroke-width="1"/>
<clipPath id="c13d"><rect x="479.4" y="170.21" width="19.9" height="62.49"/></clipPath>
<rect x="479.4" y="170.21" width="19.9" height="62.49" fill="#fff"/>
<path clip-path="url(#c13d)" d="M479.8 172.0l2.3 1.4l-2.3 1.4zM479.8 178.3l2.3 1.4l-2.3 1.4zM479.8 184.6l2.3 1.4l-2.3 1.4zM479.8 190.9l2.3 1.4l-2.3 1.4zM479.8 197.2l2.3 1.4l-2.3 1.4zM479.8 203.5l2.3 1.4l-2.3 1.4zM479.8 209.8l2.3 1.4l-2.3 1.4zM479.8 216.1l2.3 1.4l-2.3 1.4zM479.8 222.4l2.3 1.4l-2.3 1.4zM479.8 228.7l2.3 1.4l-2.3 1.4zM486.1 172.0l2.3 1.4l-2.3 1.4zM486.1 178.3l2.3 1.4l-2.3 1.4zM486.1 184.6l2.3 1.4l-2.3 1.4zM486.1 190.9l2.3 1.4l-2.3 1.4zM486.1 197.2l2.3 1.4l-2.3 1.4zM486.1 203.5l2.3 1.4l-2.3 1.4zM486.1 209.8l2.3 1.4l-2.3 1.4zM486.1 216.1l2.3 1.4l-2.3 1.4zM486.1 222.4l2.3 1.4l-2.3 1.4zM486.1 228.7l2.3 1.4l-2.3 1.4zM492.4 172.0l2.3 1.4l-2.3 1.4zM492.4 178.3l2.3 1.4l-2.3 1.4zM492.4 184.6l2.3 1.4l-2.3 1.4zM492.4 190.9l2.3 1.4l-2.3 1.4zM492.4 197.2l2.3 1.4l-2.3 1.4zM492.4 203.5l2.3 1.4l-2.3 1.4zM492.4 209.8l2.3 1.4l-2.3 1.4zM492.4 216.1l2.3 1.4l-2.3 1.4zM492.4 222.4l2.3 1.4l-2.3 1.4zM492.4 228.7l2.3 1.4l-2.3 1.4zM498.7 172.0l2.3 1.4l-2.3 1.4zM498.7 178.3l2.3 1.4l-2.3 1.4zM498.7 184.6l2.3 1.4l-2.3 1.4zM498.7 190.9l2.3 1.4l-2.3 1.4zM498.7 197.2l2.3 1.4l-2.3 1.4zM498.7 203.5l2.3 1.4l-2.3 1.4zM498.7 209.8l2.3 1.4l-2.3 1.4zM498.7 216.1l2.3 1.4l-2.3 1.4zM498.7 222.4l2.3 1.4l-2.3 1.4zM498.7 228.7l2.3 1.4l-2.3 1.4zM485.1 168.8l-2.3 1.4l2.3 1.4zM485.1 175.1l-2.3 1.4l2.3 1.4zM485.1 181.4l-2.3 1.4l2.3 1.4zM485.1 187.7l-2.3 1.4l2.3 1.4zM485.1 194.0l-2.3 1.4l2.3 1.4zM485.1 200.3l-2.3 1.4l2.3 1.4zM485.1 206.6l-2.3 1.4l2.3 1.4zM485.1 212.9l-2.3 1.4l2.3 1.4zM485.1 219.2l-2.3 1.4l2.3 1.4zM485.1 225.5l-2.3 1.4l2.3 1.4zM485.1 231.8l-2.3 1.4l2.3 1.4zM491.4 168.8l-2.3 1.4l2.3 1.4zM491.4 175.1l-2.3 1.4l2.3 1.4zM491.4 181.4l-2.3 1.4l2.3 1.4zM491.4 187.7l-2.3 1.4l2.3 1.4zM491.4 194.0l-2.3 1.4l2.3 1.4zM491.4 200.3l-2.3 1.4l2.3 1.4zM491.4 206.6l-2.3 1.4l2.3 1.4zM491.4 212.9l-2.3 1.4l2.3 1.4zM491.4 219.2l-2.3 1.4l2.3 1.4zM491.4 225.5l-2.3 1.4l2.3 1.4zM491.4 231.8l-2.3 1.4l2.3 1.4zM497.8 168.8l-2.3 1.4l2.3 1.4zM497.8 175.1l-2.3 1.4l2.3 1.4zM497.8 181.4l-2.3 1.4l2.3 1.4zM497.8 187.7l-2.3 1.4l2.3 1.4zM497.8 194.0l-2.3 1.4l2.3 1.4zM497.8 200.3l-2.3 1.4l2.3 1.4zM497.8 206.6l-2.3 1.4l2.3 1.4zM497.8 212.9l-2.3 1.4l2.3 1.4zM497.8 219.2l-2.3 1.4l2.3 1.4zM497.8 225.5l-2.3 1.4l2.3 1.4zM497.8 231.8l-2.3 1.4l2.3 1.4z" fill="#5a5a5a"/>
<rect x="479.4" y="132.13" width="19.9" height="38.08" fill="#3b3a3a"/>
<clipPath id="c13h"><rect x="479.4" y="81.84" width="19.9" height="50.29"/></clipPath>
<rect x="479.4" y="81.84" width="19.9" height="50.29" fill="#fff"/>
<path clip-path="url(#c13h)" d="M477.40 79.22L501.30 55.32M477.40 83.80L501.30 59.90M477.40 88.38L501.30 64.48M477.40 92.96L501.30 69.06M477.40 97.54L501.30 73.64M477.40 102.12L501.30 78.22M477.40 106.70L501.30 82.80M477.40 111.28L501.30 87.38M477.40 115.86L501.30 91.96M477.40 120.44L501.30 96.54M477.40 125.02L501.30 101.12M477.40 129.60L501.30 105.70M477.40 134.18L501.30 110.28M477.40 138.76L501.30 114.86M477.40 143.34L501.30 119.44M477.40 147.92L501.30 124.02M477.40 152.50L501.30 128.60M477.40 157.08L501.30 133.18M477.40 161.66L501.30 137.76" stroke="#111" stroke-width="1.45" fill="none"/>
<rect x="479.4" y="22.30" width="19.9" height="59.54" fill="#cccaca"/>
<path d="M479.4 170.21h19.9M479.4 132.13h19.9M479.4 81.84h19.9" stroke="#6a6a6a" stroke-width="0.8" fill="none"/>
<rect x="479.4" y="22.30" width="19.9" height="210.40" fill="none" stroke="#2a2a2a" stroke-width="1"/>
<clipPath id="c14d"><rect x="508.0" y="184.10" width="20.2" height="48.60"/></clipPath>
<rect x="508.0" y="184.10" width="20.2" height="48.60" fill="#fff"/>
<path clip-path="url(#c14d)" d="M511.3 184.6l2.3 1.4l-2.3 1.4zM511.3 190.9l2.3 1.4l-2.3 1.4zM511.3 197.2l2.3 1.4l-2.3 1.4zM511.3 203.5l2.3 1.4l-2.3 1.4zM511.3 209.8l2.3 1.4l-2.3 1.4zM511.3 216.1l2.3 1.4l-2.3 1.4zM511.3 222.4l2.3 1.4l-2.3 1.4zM511.3 228.7l2.3 1.4l-2.3 1.4zM517.6 184.6l2.3 1.4l-2.3 1.4zM517.6 190.9l2.3 1.4l-2.3 1.4zM517.6 197.2l2.3 1.4l-2.3 1.4zM517.6 203.5l2.3 1.4l-2.3 1.4zM517.6 209.8l2.3 1.4l-2.3 1.4zM517.6 216.1l2.3 1.4l-2.3 1.4zM517.6 222.4l2.3 1.4l-2.3 1.4zM517.6 228.7l2.3 1.4l-2.3 1.4zM523.9 184.6l2.3 1.4l-2.3 1.4zM523.9 190.9l2.3 1.4l-2.3 1.4zM523.9 197.2l2.3 1.4l-2.3 1.4zM523.9 203.5l2.3 1.4l-2.3 1.4zM523.9 209.8l2.3 1.4l-2.3 1.4zM523.9 216.1l2.3 1.4l-2.3 1.4zM523.9 222.4l2.3 1.4l-2.3 1.4zM523.9 228.7l2.3 1.4l-2.3 1.4zM510.3 181.4l-2.3 1.4l2.3 1.4zM510.3 187.7l-2.3 1.4l2.3 1.4zM510.3 194.0l-2.3 1.4l2.3 1.4zM510.3 200.3l-2.3 1.4l2.3 1.4zM510.3 206.6l-2.3 1.4l2.3 1.4zM510.3 212.9l-2.3 1.4l2.3 1.4zM510.3 219.2l-2.3 1.4l2.3 1.4zM510.3 225.5l-2.3 1.4l2.3 1.4zM510.3 231.8l-2.3 1.4l2.3 1.4zM516.6 181.4l-2.3 1.4l2.3 1.4zM516.6 187.7l-2.3 1.4l2.3 1.4zM516.6 194.0l-2.3 1.4l2.3 1.4zM516.6 200.3l-2.3 1.4l2.3 1.4zM516.6 206.6l-2.3 1.4l2.3 1.4zM516.6 212.9l-2.3 1.4l2.3 1.4zM516.6 219.2l-2.3 1.4l2.3 1.4zM516.6 225.5l-2.3 1.4l2.3 1.4zM516.6 231.8l-2.3 1.4l2.3 1.4zM523.0 181.4l-2.3 1.4l2.3 1.4zM523.0 187.7l-2.3 1.4l2.3 1.4zM523.0 194.0l-2.3 1.4l2.3 1.4zM523.0 200.3l-2.3 1.4l2.3 1.4zM523.0 206.6l-2.3 1.4l2.3 1.4zM523.0 212.9l-2.3 1.4l2.3 1.4zM523.0 219.2l-2.3 1.4l2.3 1.4zM523.0 225.5l-2.3 1.4l2.3 1.4zM523.0 231.8l-2.3 1.4l2.3 1.4zM529.2 181.4l-2.3 1.4l2.3 1.4zM529.2 187.7l-2.3 1.4l2.3 1.4zM529.2 194.0l-2.3 1.4l2.3 1.4zM529.2 200.3l-2.3 1.4l2.3 1.4zM529.2 206.6l-2.3 1.4l2.3 1.4zM529.2 212.9l-2.3 1.4l2.3 1.4zM529.2 219.2l-2.3 1.4l2.3 1.4zM529.2 225.5l-2.3 1.4l2.3 1.4zM529.2 231.8l-2.3 1.4l2.3 1.4z" fill="#5a5a5a"/>
<rect x="508.0" y="123.29" width="20.2" height="60.81" fill="#3b3a3a"/>
<clipPath id="c14h"><rect x="508.0" y="81.21" width="20.2" height="42.08"/></clipPath>
<rect x="508.0" y="81.21" width="20.2" height="42.08" fill="#fff"/>
<path clip-path="url(#c14h)" d="M506.00 78.10L530.20 53.90M506.00 82.68L530.20 58.48M506.00 87.26L530.20 63.06M506.00 91.84L530.20 67.64M506.00 96.42L530.20 72.22M506.00 101.00L530.20 76.80M506.00 105.58L530.20 81.38M506.00 110.16L530.20 85.96M506.00 114.74L530.20 90.54M506.00 119.32L530.20 95.12M506.00 123.90L530.20 99.70M506.00 128.48L530.20 104.28M506.00 133.06L530.20 108.86M506.00 137.64L530.20 113.44M506.00 142.22L530.20 118.02M506.00 146.80L530.20 122.60M506.00 151.38L530.20 127.18" stroke="#111" stroke-width="1.45" fill="none"/>
<rect x="508.0" y="22.30" width="20.2" height="58.91" fill="#cccaca"/>
<path d="M508.0 184.10h20.2M508.0 123.29h20.2M508.0 81.21h20.2" stroke="#6a6a6a" stroke-width="0.8" fill="none"/>
<rect x="508.0" y="22.30" width="20.2" height="210.40" fill="none" stroke="#2a2a2a" stroke-width="1"/>
<path d="M35.9 22.3 H543.5 V270 M38.8 22.3 V270 M38.8 232.7 H543.5 M206 228.5 V270 M376.1 224.8 V270" fill="none" stroke="#3c3c3c" stroke-width="1.1"/>
<path d="M35.9 232.70 H38.8 M36.9 224.28 H38.8 M36.9 215.87 H38.8 M36.9 207.45 H38.8 M36.9 199.04 H38.8 M35.9 190.62 H42 M36.9 182.20 H38.8 M36.9 173.79 H38.8 M36.9 165.37 H38.8 M36.9 156.96 H38.8 M35.9 148.54 H42 M36.9 140.12 H38.8 M36.9 131.71 H38.8 M36.9 123.29 H38.8 M36.9 114.88 H38.8 M35.9 106.46 H42 M36.9 98.04 H38.8 M36.9 89.63 H38.8 M36.9 81.21 H38.8 M36.9 72.80 H38.8 M35.9 64.38 H42 M36.9 55.96 H38.8 M36.9 47.55 H38.8 M36.9 39.13 H38.8 M36.9 30.72 H38.8 M35.9 22.30 H38.8" stroke="#333" stroke-width="1" fill="none"/>
<text x="32.2" y="235.50" font-size="9.8" text-anchor="end">0</text>
<text x="32.2" y="193.42" font-size="9.8" text-anchor="end">20</text>
<text x="32.2" y="151.34" font-size="9.8" text-anchor="end">40</text>
<text x="32.2" y="109.26" font-size="9.8" text-anchor="end">60</text>
<text x="32.2" y="67.18" font-size="9.8" text-anchor="end">80</text>
<text x="32.2" y="25.10" font-size="9.8" text-anchor="end">100</text>
<text transform="translate(11.7 121.4) rotate(-90)" font-size="12.2" text-anchor="middle" textLength="152.2" lengthAdjust="spacingAndGlyphs">Weeds biomass percentage (%)</text>
<text x="122.3" y="265.2" font-size="10" text-anchor="middle" textLength="89" lengthAdjust="spacingAndGlyphs">Weeding frequencies</text>
<text x="121.8" y="276.5" font-size="10" text-anchor="middle" textLength="41" lengthAdjust="spacingAndGlyphs">at 60 DAT</text>
<text x="293" y="265.2" font-size="10" text-anchor="middle" textLength="89" lengthAdjust="spacingAndGlyphs">Weeding frequencies</text>
<text x="292.5" y="276.5" font-size="10" text-anchor="middle" textLength="40.5" lengthAdjust="spacingAndGlyphs">at 88 DAT</text>
<text x="463.7" y="265.2" font-size="10" text-anchor="middle" textLength="89" lengthAdjust="spacingAndGlyphs">Weeding frequencies</text>
<text x="463.2" y="276.5" font-size="10" text-anchor="middle" textLength="48" lengthAdjust="spacingAndGlyphs">at 110 DAT</text>
<text x="64.8" y="250.4" font-size="9.6" text-anchor="middle">0</text>
<text x="92" y="250.4" font-size="9.6" text-anchor="middle">2</text>
<text x="118.9" y="250.4" font-size="9.6" text-anchor="middle">4</text>
<text x="148" y="250.4" font-size="9.6" text-anchor="middle">6</text>
<text x="176.5" y="250.4" font-size="9.6" text-anchor="middle">8</text>
<text x="234.6" y="250.4" font-size="9.6" text-anchor="middle">0</text>
<text x="262.2" y="250.4" font-size="9.6" text-anchor="middle">2</text>
<text x="289.4" y="250.4" font-size="9.6" text-anchor="middle">4</text>
<text x="318.1" y="250.4" font-size="9.6" text-anchor="middle">6</text>
<text x="347.3" y="250.4" font-size="9.6" text-anchor="middle">8</text>
<text x="405.9" y="250.4" font-size="9.6" text-anchor="middle">0</text>
<text x="433.6" y="250.4" font-size="9.6" text-anchor="middle">2</text>
<text x="460.2" y="250.4" font-size="9.6" text-anchor="middle">4</text>
<text x="489.7" y="250.4" font-size="9.6" text-anchor="middle">6</text>
<text x="518.2" y="250.4" font-size="9.6" text-anchor="middle">8</text>
<clipPath id="l1"><rect x="54.4" y="1.5" width="11.2" height="10.7"/></clipPath>
<rect x="54.4" y="1.5" width="11.2" height="10.7" fill="#fff"/>
<path clip-path="url(#l1)" d="M57.3 5.2l2.3 1.4l-2.3 1.4zM64.2 5.2l2.3 1.4l-2.3 1.4zM62.8 2.2l-2.3 1.4l2.3 1.4zM62.8 8.3l-2.3 1.4l2.3 1.4zM56.0 2.2l-2.3 1.4l2.3 1.4zM56.0 8.3l-2.3 1.4l2.3 1.4z" fill="#444"/>
<rect x="54.4" y="1.5" width="11.2" height="10.7" fill="none" stroke="#222" stroke-width="1.2"/>
<text x="71.8" y="10.9" font-size="10" class="i" textLength="86" lengthAdjust="spacingAndGlyphs">Echinochloa crus-galli</text>
<rect x="178.5" y="1.6" width="10.8" height="10.5" fill="#3b3939" stroke="#151515" stroke-width="1.2"/>
<text x="196.2" y="10.9" font-size="10" textLength="127.4" lengthAdjust="spacingAndGlyphs"><tspan class="i">Monochoria vaginalis</tspan> (Burm. f.)</text>
<clipPath id="l3"><rect x="340.2" y="1.6" width="11" height="10.5"/></clipPath>
<rect x="340.2" y="1.6" width="11" height="10.5" fill="#fff"/>
<path clip-path="url(#l3)" d="M338.20 -1.42L353.20 -16.42M338.20 3.16L353.20 -11.84M338.20 7.74L353.20 -7.26M338.20 12.32L353.20 -2.68M338.20 16.90L353.20 1.90M338.20 21.48L353.20 6.48M338.20 26.06L353.20 11.06M338.20 30.64L353.20 15.64" stroke="#111" stroke-width="1.3" fill="none"/>
<rect x="340.2" y="1.6" width="11" height="10.5" fill="none" stroke="#222" stroke-width="1"/>
<text x="357.6" y="10.9" font-size="10" class="i" textLength="98" lengthAdjust="spacingAndGlyphs">Schoenoplectus juncoides</text>
<rect x="474.7" y="1.6" width="11.6" height="10.4" fill="#cfcdcd" stroke="#3a3a3a" stroke-width="1.2"/>
<text x="492.4" y="10.9" font-size="10" textLength="53.2" lengthAdjust="spacingAndGlyphs">Other weeds</text>
</svg></body></html>
